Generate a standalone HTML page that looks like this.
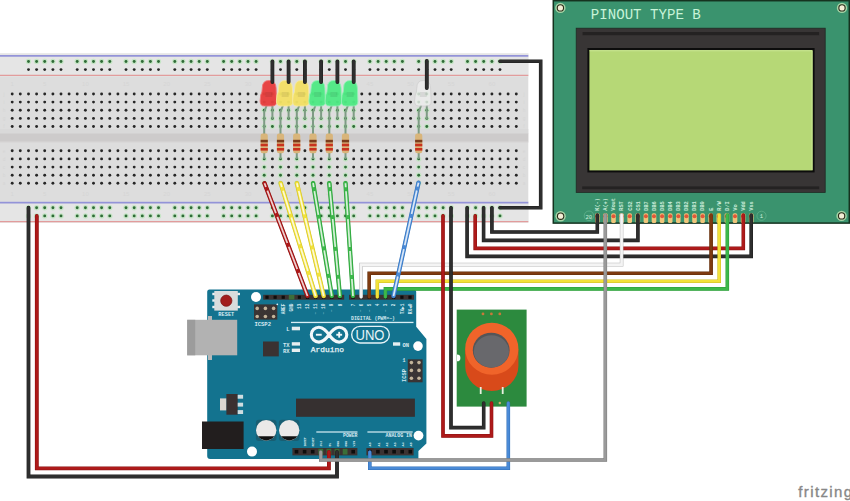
<!DOCTYPE html>
<html><head><meta charset="utf-8"><style>
html,body{margin:0;padding:0;background:#fff;width:850px;height:501px;overflow:hidden}
svg{display:block}
text{font-family:"Liberation Sans",sans-serif}
.mono{font-family:"Liberation Mono",monospace}
</style></head><body>
<svg width="850" height="501" viewBox="0 0 850 501">
<rect width="850" height="501" fill="#fff"/>
<rect x="-2" y="53.5" width="530.3" height="169" fill="#dddddd"/>
<rect x="-2" y="53.5" width="530.3" height="23" fill="#e5e5e5"/>
<rect x="-2" y="201.5" width="530.3" height="21" fill="#e5e5e5"/>
<rect x="-2" y="129" width="530.3" height="5" fill="#d9d9d9"/>
<rect x="-2" y="133.5" width="530.3" height="8.3" fill="#cdcbcb"/>
<rect x="-2" y="141.6" width="530.3" height="1" fill="#d6d4d4"/>
<line x1="-2" y1="55.8" x2="528.3" y2="55.8" stroke="#9393d8" stroke-width="1.8"/>
<line x1="-2" y1="75.4" x2="528.3" y2="75.4" stroke="#e29c9c" stroke-width="1.4"/>
<line x1="-2" y1="202.7" x2="528.3" y2="202.7" stroke="#9393d8" stroke-width="1.8"/>
<line x1="-2" y1="221.6" x2="528.3" y2="221.6" stroke="#e29c9c" stroke-width="1.4"/>
<circle cx="28.5" cy="61.5" r="2.7" fill="#c6e5c6"/><circle cx="28.5" cy="61.5" r="1.45" fill="#2f6b37"/>
<circle cx="28.5" cy="69.6" r="1.45" fill="#262626"/>
<circle cx="28.5" cy="207.7" r="2.7" fill="#c6e5c6"/><circle cx="28.5" cy="207.7" r="1.45" fill="#2f6b37"/>
<circle cx="28.5" cy="215.9" r="2.7" fill="#c6e5c6"/><circle cx="28.5" cy="215.9" r="1.45" fill="#2f6b37"/>
<circle cx="36.6" cy="61.5" r="2.7" fill="#c6e5c6"/><circle cx="36.6" cy="61.5" r="1.45" fill="#2f6b37"/>
<circle cx="36.6" cy="69.6" r="1.45" fill="#262626"/>
<circle cx="36.6" cy="207.7" r="2.7" fill="#c6e5c6"/><circle cx="36.6" cy="207.7" r="1.45" fill="#2f6b37"/>
<circle cx="36.6" cy="215.9" r="2.7" fill="#c6e5c6"/><circle cx="36.6" cy="215.9" r="1.45" fill="#2f6b37"/>
<circle cx="44.7" cy="61.5" r="2.7" fill="#c6e5c6"/><circle cx="44.7" cy="61.5" r="1.45" fill="#2f6b37"/>
<circle cx="44.7" cy="69.6" r="1.45" fill="#262626"/>
<circle cx="44.7" cy="207.7" r="2.7" fill="#c6e5c6"/><circle cx="44.7" cy="207.7" r="1.45" fill="#2f6b37"/>
<circle cx="44.7" cy="215.9" r="2.7" fill="#c6e5c6"/><circle cx="44.7" cy="215.9" r="1.45" fill="#2f6b37"/>
<circle cx="52.9" cy="61.5" r="2.7" fill="#c6e5c6"/><circle cx="52.9" cy="61.5" r="1.45" fill="#2f6b37"/>
<circle cx="52.9" cy="69.6" r="1.45" fill="#262626"/>
<circle cx="52.9" cy="207.7" r="2.7" fill="#c6e5c6"/><circle cx="52.9" cy="207.7" r="1.45" fill="#2f6b37"/>
<circle cx="52.9" cy="215.9" r="2.7" fill="#c6e5c6"/><circle cx="52.9" cy="215.9" r="1.45" fill="#2f6b37"/>
<circle cx="61.0" cy="61.5" r="2.7" fill="#c6e5c6"/><circle cx="61.0" cy="61.5" r="1.45" fill="#2f6b37"/>
<circle cx="61.0" cy="69.6" r="1.45" fill="#262626"/>
<circle cx="61.0" cy="207.7" r="2.7" fill="#c6e5c6"/><circle cx="61.0" cy="207.7" r="1.45" fill="#2f6b37"/>
<circle cx="61.0" cy="215.9" r="2.7" fill="#c6e5c6"/><circle cx="61.0" cy="215.9" r="1.45" fill="#2f6b37"/>
<circle cx="77.2" cy="61.5" r="2.7" fill="#c6e5c6"/><circle cx="77.2" cy="61.5" r="1.45" fill="#2f6b37"/>
<circle cx="77.2" cy="69.6" r="1.45" fill="#262626"/>
<circle cx="77.2" cy="207.7" r="2.7" fill="#c6e5c6"/><circle cx="77.2" cy="207.7" r="1.45" fill="#2f6b37"/>
<circle cx="77.2" cy="215.9" r="2.7" fill="#c6e5c6"/><circle cx="77.2" cy="215.9" r="1.45" fill="#2f6b37"/>
<circle cx="85.4" cy="61.5" r="2.7" fill="#c6e5c6"/><circle cx="85.4" cy="61.5" r="1.45" fill="#2f6b37"/>
<circle cx="85.4" cy="69.6" r="1.45" fill="#262626"/>
<circle cx="85.4" cy="207.7" r="2.7" fill="#c6e5c6"/><circle cx="85.4" cy="207.7" r="1.45" fill="#2f6b37"/>
<circle cx="85.4" cy="215.9" r="2.7" fill="#c6e5c6"/><circle cx="85.4" cy="215.9" r="1.45" fill="#2f6b37"/>
<circle cx="93.5" cy="61.5" r="2.7" fill="#c6e5c6"/><circle cx="93.5" cy="61.5" r="1.45" fill="#2f6b37"/>
<circle cx="93.5" cy="69.6" r="1.45" fill="#262626"/>
<circle cx="93.5" cy="207.7" r="2.7" fill="#c6e5c6"/><circle cx="93.5" cy="207.7" r="1.45" fill="#2f6b37"/>
<circle cx="93.5" cy="215.9" r="2.7" fill="#c6e5c6"/><circle cx="93.5" cy="215.9" r="1.45" fill="#2f6b37"/>
<circle cx="101.6" cy="61.5" r="2.7" fill="#c6e5c6"/><circle cx="101.6" cy="61.5" r="1.45" fill="#2f6b37"/>
<circle cx="101.6" cy="69.6" r="1.45" fill="#262626"/>
<circle cx="101.6" cy="207.7" r="2.7" fill="#c6e5c6"/><circle cx="101.6" cy="207.7" r="1.45" fill="#2f6b37"/>
<circle cx="101.6" cy="215.9" r="2.7" fill="#c6e5c6"/><circle cx="101.6" cy="215.9" r="1.45" fill="#2f6b37"/>
<circle cx="109.8" cy="61.5" r="2.7" fill="#c6e5c6"/><circle cx="109.8" cy="61.5" r="1.45" fill="#2f6b37"/>
<circle cx="109.8" cy="69.6" r="1.45" fill="#262626"/>
<circle cx="109.8" cy="207.7" r="2.7" fill="#c6e5c6"/><circle cx="109.8" cy="207.7" r="1.45" fill="#2f6b37"/>
<circle cx="109.8" cy="215.9" r="2.7" fill="#c6e5c6"/><circle cx="109.8" cy="215.9" r="1.45" fill="#2f6b37"/>
<circle cx="126.0" cy="61.5" r="2.7" fill="#c6e5c6"/><circle cx="126.0" cy="61.5" r="1.45" fill="#2f6b37"/>
<circle cx="126.0" cy="69.6" r="1.45" fill="#262626"/>
<circle cx="126.0" cy="207.7" r="2.7" fill="#c6e5c6"/><circle cx="126.0" cy="207.7" r="1.45" fill="#2f6b37"/>
<circle cx="126.0" cy="215.9" r="2.7" fill="#c6e5c6"/><circle cx="126.0" cy="215.9" r="1.45" fill="#2f6b37"/>
<circle cx="134.2" cy="61.5" r="2.7" fill="#c6e5c6"/><circle cx="134.2" cy="61.5" r="1.45" fill="#2f6b37"/>
<circle cx="134.2" cy="69.6" r="1.45" fill="#262626"/>
<circle cx="134.2" cy="207.7" r="2.7" fill="#c6e5c6"/><circle cx="134.2" cy="207.7" r="1.45" fill="#2f6b37"/>
<circle cx="134.2" cy="215.9" r="2.7" fill="#c6e5c6"/><circle cx="134.2" cy="215.9" r="1.45" fill="#2f6b37"/>
<circle cx="142.3" cy="61.5" r="2.7" fill="#c6e5c6"/><circle cx="142.3" cy="61.5" r="1.45" fill="#2f6b37"/>
<circle cx="142.3" cy="69.6" r="1.45" fill="#262626"/>
<circle cx="142.3" cy="207.7" r="2.7" fill="#c6e5c6"/><circle cx="142.3" cy="207.7" r="1.45" fill="#2f6b37"/>
<circle cx="142.3" cy="215.9" r="2.7" fill="#c6e5c6"/><circle cx="142.3" cy="215.9" r="1.45" fill="#2f6b37"/>
<circle cx="150.4" cy="61.5" r="2.7" fill="#c6e5c6"/><circle cx="150.4" cy="61.5" r="1.45" fill="#2f6b37"/>
<circle cx="150.4" cy="69.6" r="1.45" fill="#262626"/>
<circle cx="150.4" cy="207.7" r="2.7" fill="#c6e5c6"/><circle cx="150.4" cy="207.7" r="1.45" fill="#2f6b37"/>
<circle cx="150.4" cy="215.9" r="2.7" fill="#c6e5c6"/><circle cx="150.4" cy="215.9" r="1.45" fill="#2f6b37"/>
<circle cx="158.5" cy="61.5" r="2.7" fill="#c6e5c6"/><circle cx="158.5" cy="61.5" r="1.45" fill="#2f6b37"/>
<circle cx="158.5" cy="69.6" r="1.45" fill="#262626"/>
<circle cx="158.5" cy="207.7" r="2.7" fill="#c6e5c6"/><circle cx="158.5" cy="207.7" r="1.45" fill="#2f6b37"/>
<circle cx="158.5" cy="215.9" r="2.7" fill="#c6e5c6"/><circle cx="158.5" cy="215.9" r="1.45" fill="#2f6b37"/>
<circle cx="174.8" cy="61.5" r="2.7" fill="#c6e5c6"/><circle cx="174.8" cy="61.5" r="1.45" fill="#2f6b37"/>
<circle cx="174.8" cy="69.6" r="1.45" fill="#262626"/>
<circle cx="174.8" cy="207.7" r="2.7" fill="#c6e5c6"/><circle cx="174.8" cy="207.7" r="1.45" fill="#2f6b37"/>
<circle cx="174.8" cy="215.9" r="2.7" fill="#c6e5c6"/><circle cx="174.8" cy="215.9" r="1.45" fill="#2f6b37"/>
<circle cx="182.9" cy="61.5" r="2.7" fill="#c6e5c6"/><circle cx="182.9" cy="61.5" r="1.45" fill="#2f6b37"/>
<circle cx="182.9" cy="69.6" r="1.45" fill="#262626"/>
<circle cx="182.9" cy="207.7" r="2.7" fill="#c6e5c6"/><circle cx="182.9" cy="207.7" r="1.45" fill="#2f6b37"/>
<circle cx="182.9" cy="215.9" r="2.7" fill="#c6e5c6"/><circle cx="182.9" cy="215.9" r="1.45" fill="#2f6b37"/>
<circle cx="191.1" cy="61.5" r="2.7" fill="#c6e5c6"/><circle cx="191.1" cy="61.5" r="1.45" fill="#2f6b37"/>
<circle cx="191.1" cy="69.6" r="1.45" fill="#262626"/>
<circle cx="191.1" cy="207.7" r="2.7" fill="#c6e5c6"/><circle cx="191.1" cy="207.7" r="1.45" fill="#2f6b37"/>
<circle cx="191.1" cy="215.9" r="2.7" fill="#c6e5c6"/><circle cx="191.1" cy="215.9" r="1.45" fill="#2f6b37"/>
<circle cx="199.2" cy="61.5" r="2.7" fill="#c6e5c6"/><circle cx="199.2" cy="61.5" r="1.45" fill="#2f6b37"/>
<circle cx="199.2" cy="69.6" r="1.45" fill="#262626"/>
<circle cx="199.2" cy="207.7" r="2.7" fill="#c6e5c6"/><circle cx="199.2" cy="207.7" r="1.45" fill="#2f6b37"/>
<circle cx="199.2" cy="215.9" r="2.7" fill="#c6e5c6"/><circle cx="199.2" cy="215.9" r="1.45" fill="#2f6b37"/>
<circle cx="207.3" cy="61.5" r="2.7" fill="#c6e5c6"/><circle cx="207.3" cy="61.5" r="1.45" fill="#2f6b37"/>
<circle cx="207.3" cy="69.6" r="1.45" fill="#262626"/>
<circle cx="207.3" cy="207.7" r="2.7" fill="#c6e5c6"/><circle cx="207.3" cy="207.7" r="1.45" fill="#2f6b37"/>
<circle cx="207.3" cy="215.9" r="2.7" fill="#c6e5c6"/><circle cx="207.3" cy="215.9" r="1.45" fill="#2f6b37"/>
<circle cx="223.6" cy="61.5" r="2.7" fill="#c6e5c6"/><circle cx="223.6" cy="61.5" r="1.45" fill="#2f6b37"/>
<circle cx="223.6" cy="69.6" r="1.45" fill="#262626"/>
<circle cx="223.6" cy="207.7" r="2.7" fill="#c6e5c6"/><circle cx="223.6" cy="207.7" r="1.45" fill="#2f6b37"/>
<circle cx="223.6" cy="215.9" r="2.7" fill="#c6e5c6"/><circle cx="223.6" cy="215.9" r="1.45" fill="#2f6b37"/>
<circle cx="231.7" cy="61.5" r="2.7" fill="#c6e5c6"/><circle cx="231.7" cy="61.5" r="1.45" fill="#2f6b37"/>
<circle cx="231.7" cy="69.6" r="1.45" fill="#262626"/>
<circle cx="231.7" cy="207.7" r="2.7" fill="#c6e5c6"/><circle cx="231.7" cy="207.7" r="1.45" fill="#2f6b37"/>
<circle cx="231.7" cy="215.9" r="2.7" fill="#c6e5c6"/><circle cx="231.7" cy="215.9" r="1.45" fill="#2f6b37"/>
<circle cx="239.8" cy="61.5" r="2.7" fill="#c6e5c6"/><circle cx="239.8" cy="61.5" r="1.45" fill="#2f6b37"/>
<circle cx="239.8" cy="69.6" r="1.45" fill="#262626"/>
<circle cx="239.8" cy="207.7" r="2.7" fill="#c6e5c6"/><circle cx="239.8" cy="207.7" r="1.45" fill="#2f6b37"/>
<circle cx="239.8" cy="215.9" r="2.7" fill="#c6e5c6"/><circle cx="239.8" cy="215.9" r="1.45" fill="#2f6b37"/>
<circle cx="248.0" cy="61.5" r="2.7" fill="#c6e5c6"/><circle cx="248.0" cy="61.5" r="1.45" fill="#2f6b37"/>
<circle cx="248.0" cy="69.6" r="1.45" fill="#262626"/>
<circle cx="248.0" cy="207.7" r="2.7" fill="#c6e5c6"/><circle cx="248.0" cy="207.7" r="1.45" fill="#2f6b37"/>
<circle cx="248.0" cy="215.9" r="2.7" fill="#c6e5c6"/><circle cx="248.0" cy="215.9" r="1.45" fill="#2f6b37"/>
<circle cx="256.1" cy="61.5" r="2.7" fill="#c6e5c6"/><circle cx="256.1" cy="61.5" r="1.45" fill="#2f6b37"/>
<circle cx="256.1" cy="69.6" r="1.45" fill="#262626"/>
<circle cx="256.1" cy="207.7" r="2.7" fill="#c6e5c6"/><circle cx="256.1" cy="207.7" r="1.45" fill="#2f6b37"/>
<circle cx="256.1" cy="215.9" r="2.7" fill="#c6e5c6"/><circle cx="256.1" cy="215.9" r="1.45" fill="#2f6b37"/>
<circle cx="272.4" cy="61.5" r="2.7" fill="#c6e5c6"/><circle cx="272.4" cy="61.5" r="1.45" fill="#2f6b37"/>
<circle cx="272.4" cy="69.6" r="1.45" fill="#262626"/>
<circle cx="272.4" cy="207.7" r="2.7" fill="#c6e5c6"/><circle cx="272.4" cy="207.7" r="1.45" fill="#2f6b37"/>
<circle cx="272.4" cy="215.9" r="2.7" fill="#c6e5c6"/><circle cx="272.4" cy="215.9" r="1.45" fill="#2f6b37"/>
<circle cx="280.5" cy="61.5" r="2.7" fill="#c6e5c6"/><circle cx="280.5" cy="61.5" r="1.45" fill="#2f6b37"/>
<circle cx="280.5" cy="69.6" r="1.45" fill="#262626"/>
<circle cx="280.5" cy="207.7" r="2.7" fill="#c6e5c6"/><circle cx="280.5" cy="207.7" r="1.45" fill="#2f6b37"/>
<circle cx="280.5" cy="215.9" r="2.7" fill="#c6e5c6"/><circle cx="280.5" cy="215.9" r="1.45" fill="#2f6b37"/>
<circle cx="288.6" cy="61.5" r="2.7" fill="#c6e5c6"/><circle cx="288.6" cy="61.5" r="1.45" fill="#2f6b37"/>
<circle cx="288.6" cy="69.6" r="1.45" fill="#262626"/>
<circle cx="288.6" cy="207.7" r="2.7" fill="#c6e5c6"/><circle cx="288.6" cy="207.7" r="1.45" fill="#2f6b37"/>
<circle cx="288.6" cy="215.9" r="2.7" fill="#c6e5c6"/><circle cx="288.6" cy="215.9" r="1.45" fill="#2f6b37"/>
<circle cx="296.8" cy="61.5" r="2.7" fill="#c6e5c6"/><circle cx="296.8" cy="61.5" r="1.45" fill="#2f6b37"/>
<circle cx="296.8" cy="69.6" r="1.45" fill="#262626"/>
<circle cx="296.8" cy="207.7" r="2.7" fill="#c6e5c6"/><circle cx="296.8" cy="207.7" r="1.45" fill="#2f6b37"/>
<circle cx="296.8" cy="215.9" r="2.7" fill="#c6e5c6"/><circle cx="296.8" cy="215.9" r="1.45" fill="#2f6b37"/>
<circle cx="304.9" cy="61.5" r="2.7" fill="#c6e5c6"/><circle cx="304.9" cy="61.5" r="1.45" fill="#2f6b37"/>
<circle cx="304.9" cy="69.6" r="1.45" fill="#262626"/>
<circle cx="304.9" cy="207.7" r="2.7" fill="#c6e5c6"/><circle cx="304.9" cy="207.7" r="1.45" fill="#2f6b37"/>
<circle cx="304.9" cy="215.9" r="2.7" fill="#c6e5c6"/><circle cx="304.9" cy="215.9" r="1.45" fill="#2f6b37"/>
<circle cx="321.1" cy="61.5" r="2.7" fill="#c6e5c6"/><circle cx="321.1" cy="61.5" r="1.45" fill="#2f6b37"/>
<circle cx="321.1" cy="69.6" r="1.45" fill="#262626"/>
<circle cx="321.1" cy="207.7" r="2.7" fill="#c6e5c6"/><circle cx="321.1" cy="207.7" r="1.45" fill="#2f6b37"/>
<circle cx="321.1" cy="215.9" r="2.7" fill="#c6e5c6"/><circle cx="321.1" cy="215.9" r="1.45" fill="#2f6b37"/>
<circle cx="329.3" cy="61.5" r="2.7" fill="#c6e5c6"/><circle cx="329.3" cy="61.5" r="1.45" fill="#2f6b37"/>
<circle cx="329.3" cy="69.6" r="1.45" fill="#262626"/>
<circle cx="329.3" cy="207.7" r="2.7" fill="#c6e5c6"/><circle cx="329.3" cy="207.7" r="1.45" fill="#2f6b37"/>
<circle cx="329.3" cy="215.9" r="2.7" fill="#c6e5c6"/><circle cx="329.3" cy="215.9" r="1.45" fill="#2f6b37"/>
<circle cx="337.4" cy="61.5" r="2.7" fill="#c6e5c6"/><circle cx="337.4" cy="61.5" r="1.45" fill="#2f6b37"/>
<circle cx="337.4" cy="69.6" r="1.45" fill="#262626"/>
<circle cx="337.4" cy="207.7" r="2.7" fill="#c6e5c6"/><circle cx="337.4" cy="207.7" r="1.45" fill="#2f6b37"/>
<circle cx="337.4" cy="215.9" r="2.7" fill="#c6e5c6"/><circle cx="337.4" cy="215.9" r="1.45" fill="#2f6b37"/>
<circle cx="345.5" cy="61.5" r="2.7" fill="#c6e5c6"/><circle cx="345.5" cy="61.5" r="1.45" fill="#2f6b37"/>
<circle cx="345.5" cy="69.6" r="1.45" fill="#262626"/>
<circle cx="345.5" cy="207.7" r="2.7" fill="#c6e5c6"/><circle cx="345.5" cy="207.7" r="1.45" fill="#2f6b37"/>
<circle cx="345.5" cy="215.9" r="2.7" fill="#c6e5c6"/><circle cx="345.5" cy="215.9" r="1.45" fill="#2f6b37"/>
<circle cx="353.7" cy="61.5" r="2.7" fill="#c6e5c6"/><circle cx="353.7" cy="61.5" r="1.45" fill="#2f6b37"/>
<circle cx="353.7" cy="69.6" r="1.45" fill="#262626"/>
<circle cx="353.7" cy="207.7" r="2.7" fill="#c6e5c6"/><circle cx="353.7" cy="207.7" r="1.45" fill="#2f6b37"/>
<circle cx="353.7" cy="215.9" r="2.7" fill="#c6e5c6"/><circle cx="353.7" cy="215.9" r="1.45" fill="#2f6b37"/>
<circle cx="369.9" cy="61.5" r="2.7" fill="#c6e5c6"/><circle cx="369.9" cy="61.5" r="1.45" fill="#2f6b37"/>
<circle cx="369.9" cy="69.6" r="1.45" fill="#262626"/>
<circle cx="369.9" cy="207.7" r="2.7" fill="#c6e5c6"/><circle cx="369.9" cy="207.7" r="1.45" fill="#2f6b37"/>
<circle cx="369.9" cy="215.9" r="2.7" fill="#c6e5c6"/><circle cx="369.9" cy="215.9" r="1.45" fill="#2f6b37"/>
<circle cx="378.1" cy="61.5" r="2.7" fill="#c6e5c6"/><circle cx="378.1" cy="61.5" r="1.45" fill="#2f6b37"/>
<circle cx="378.1" cy="69.6" r="1.45" fill="#262626"/>
<circle cx="378.1" cy="207.7" r="2.7" fill="#c6e5c6"/><circle cx="378.1" cy="207.7" r="1.45" fill="#2f6b37"/>
<circle cx="378.1" cy="215.9" r="2.7" fill="#c6e5c6"/><circle cx="378.1" cy="215.9" r="1.45" fill="#2f6b37"/>
<circle cx="386.2" cy="61.5" r="2.7" fill="#c6e5c6"/><circle cx="386.2" cy="61.5" r="1.45" fill="#2f6b37"/>
<circle cx="386.2" cy="69.6" r="1.45" fill="#262626"/>
<circle cx="386.2" cy="207.7" r="2.7" fill="#c6e5c6"/><circle cx="386.2" cy="207.7" r="1.45" fill="#2f6b37"/>
<circle cx="386.2" cy="215.9" r="2.7" fill="#c6e5c6"/><circle cx="386.2" cy="215.9" r="1.45" fill="#2f6b37"/>
<circle cx="394.3" cy="61.5" r="2.7" fill="#c6e5c6"/><circle cx="394.3" cy="61.5" r="1.45" fill="#2f6b37"/>
<circle cx="394.3" cy="69.6" r="1.45" fill="#262626"/>
<circle cx="394.3" cy="207.7" r="2.7" fill="#c6e5c6"/><circle cx="394.3" cy="207.7" r="1.45" fill="#2f6b37"/>
<circle cx="394.3" cy="215.9" r="2.7" fill="#c6e5c6"/><circle cx="394.3" cy="215.9" r="1.45" fill="#2f6b37"/>
<circle cx="402.4" cy="61.5" r="2.7" fill="#c6e5c6"/><circle cx="402.4" cy="61.5" r="1.45" fill="#2f6b37"/>
<circle cx="402.4" cy="69.6" r="1.45" fill="#262626"/>
<circle cx="402.4" cy="207.7" r="2.7" fill="#c6e5c6"/><circle cx="402.4" cy="207.7" r="1.45" fill="#2f6b37"/>
<circle cx="402.4" cy="215.9" r="2.7" fill="#c6e5c6"/><circle cx="402.4" cy="215.9" r="1.45" fill="#2f6b37"/>
<circle cx="418.7" cy="61.5" r="2.7" fill="#c6e5c6"/><circle cx="418.7" cy="61.5" r="1.45" fill="#2f6b37"/>
<circle cx="418.7" cy="69.6" r="1.45" fill="#262626"/>
<circle cx="418.7" cy="207.7" r="2.7" fill="#c6e5c6"/><circle cx="418.7" cy="207.7" r="1.45" fill="#2f6b37"/>
<circle cx="418.7" cy="215.9" r="2.7" fill="#c6e5c6"/><circle cx="418.7" cy="215.9" r="1.45" fill="#2f6b37"/>
<circle cx="426.8" cy="61.5" r="2.7" fill="#c6e5c6"/><circle cx="426.8" cy="61.5" r="1.45" fill="#2f6b37"/>
<circle cx="426.8" cy="69.6" r="1.45" fill="#262626"/>
<circle cx="426.8" cy="207.7" r="2.7" fill="#c6e5c6"/><circle cx="426.8" cy="207.7" r="1.45" fill="#2f6b37"/>
<circle cx="426.8" cy="215.9" r="2.7" fill="#c6e5c6"/><circle cx="426.8" cy="215.9" r="1.45" fill="#2f6b37"/>
<circle cx="435.0" cy="61.5" r="2.7" fill="#c6e5c6"/><circle cx="435.0" cy="61.5" r="1.45" fill="#2f6b37"/>
<circle cx="435.0" cy="69.6" r="1.45" fill="#262626"/>
<circle cx="435.0" cy="207.7" r="2.7" fill="#c6e5c6"/><circle cx="435.0" cy="207.7" r="1.45" fill="#2f6b37"/>
<circle cx="435.0" cy="215.9" r="2.7" fill="#c6e5c6"/><circle cx="435.0" cy="215.9" r="1.45" fill="#2f6b37"/>
<circle cx="443.1" cy="61.5" r="2.7" fill="#c6e5c6"/><circle cx="443.1" cy="61.5" r="1.45" fill="#2f6b37"/>
<circle cx="443.1" cy="69.6" r="1.45" fill="#262626"/>
<circle cx="443.1" cy="207.7" r="2.7" fill="#c6e5c6"/><circle cx="443.1" cy="207.7" r="1.45" fill="#2f6b37"/>
<circle cx="443.1" cy="215.9" r="2.7" fill="#c6e5c6"/><circle cx="443.1" cy="215.9" r="1.45" fill="#2f6b37"/>
<circle cx="451.2" cy="61.5" r="2.7" fill="#c6e5c6"/><circle cx="451.2" cy="61.5" r="1.45" fill="#2f6b37"/>
<circle cx="451.2" cy="69.6" r="1.45" fill="#262626"/>
<circle cx="451.2" cy="207.7" r="2.7" fill="#c6e5c6"/><circle cx="451.2" cy="207.7" r="1.45" fill="#2f6b37"/>
<circle cx="451.2" cy="215.9" r="2.7" fill="#c6e5c6"/><circle cx="451.2" cy="215.9" r="1.45" fill="#2f6b37"/>
<circle cx="467.5" cy="61.5" r="2.7" fill="#c6e5c6"/><circle cx="467.5" cy="61.5" r="1.45" fill="#2f6b37"/>
<circle cx="467.5" cy="69.6" r="1.45" fill="#262626"/>
<circle cx="467.5" cy="207.7" r="2.7" fill="#c6e5c6"/><circle cx="467.5" cy="207.7" r="1.45" fill="#2f6b37"/>
<circle cx="467.5" cy="215.9" r="2.7" fill="#c6e5c6"/><circle cx="467.5" cy="215.9" r="1.45" fill="#2f6b37"/>
<circle cx="475.6" cy="61.5" r="2.7" fill="#c6e5c6"/><circle cx="475.6" cy="61.5" r="1.45" fill="#2f6b37"/>
<circle cx="475.6" cy="69.6" r="1.45" fill="#262626"/>
<circle cx="475.6" cy="207.7" r="2.7" fill="#c6e5c6"/><circle cx="475.6" cy="207.7" r="1.45" fill="#2f6b37"/>
<circle cx="475.6" cy="215.9" r="2.7" fill="#c6e5c6"/><circle cx="475.6" cy="215.9" r="1.45" fill="#2f6b37"/>
<circle cx="483.7" cy="61.5" r="2.7" fill="#c6e5c6"/><circle cx="483.7" cy="61.5" r="1.45" fill="#2f6b37"/>
<circle cx="483.7" cy="69.6" r="1.45" fill="#262626"/>
<circle cx="483.7" cy="207.7" r="2.7" fill="#c6e5c6"/><circle cx="483.7" cy="207.7" r="1.45" fill="#2f6b37"/>
<circle cx="483.7" cy="215.9" r="2.7" fill="#c6e5c6"/><circle cx="483.7" cy="215.9" r="1.45" fill="#2f6b37"/>
<circle cx="491.9" cy="61.5" r="2.7" fill="#c6e5c6"/><circle cx="491.9" cy="61.5" r="1.45" fill="#2f6b37"/>
<circle cx="491.9" cy="69.6" r="1.45" fill="#262626"/>
<circle cx="491.9" cy="207.7" r="2.7" fill="#c6e5c6"/><circle cx="491.9" cy="207.7" r="1.45" fill="#2f6b37"/>
<circle cx="491.9" cy="215.9" r="2.7" fill="#c6e5c6"/><circle cx="491.9" cy="215.9" r="1.45" fill="#2f6b37"/>
<circle cx="500.0" cy="61.5" r="2.7" fill="#c6e5c6"/><circle cx="500.0" cy="61.5" r="1.45" fill="#2f6b37"/>
<circle cx="500.0" cy="69.6" r="1.45" fill="#262626"/>
<circle cx="500.0" cy="207.7" r="2.7" fill="#c6e5c6"/><circle cx="500.0" cy="207.7" r="1.45" fill="#2f6b37"/>
<circle cx="500.0" cy="215.9" r="2.7" fill="#c6e5c6"/><circle cx="500.0" cy="215.9" r="1.45" fill="#2f6b37"/>
<circle cx="12.2" cy="94.0" r="1.45" fill="#262626"/>
<circle cx="12.2" cy="102.1" r="1.45" fill="#262626"/>
<circle cx="12.2" cy="110.3" r="1.45" fill="#262626"/>
<circle cx="12.2" cy="118.4" r="1.45" fill="#262626"/>
<circle cx="12.2" cy="126.5" r="1.45" fill="#262626"/>
<circle cx="12.2" cy="150.8" r="1.45" fill="#262626"/>
<circle cx="12.2" cy="158.9" r="1.45" fill="#262626"/>
<circle cx="12.2" cy="167.1" r="1.45" fill="#262626"/>
<circle cx="12.2" cy="175.2" r="1.45" fill="#262626"/>
<circle cx="12.2" cy="183.3" r="1.45" fill="#262626"/>
<circle cx="20.3" cy="94.0" r="1.45" fill="#262626"/>
<circle cx="20.3" cy="102.1" r="1.45" fill="#262626"/>
<circle cx="20.3" cy="110.3" r="1.45" fill="#262626"/>
<circle cx="20.3" cy="118.4" r="1.45" fill="#262626"/>
<circle cx="20.3" cy="126.5" r="1.45" fill="#262626"/>
<circle cx="20.3" cy="150.8" r="1.45" fill="#262626"/>
<circle cx="20.3" cy="158.9" r="1.45" fill="#262626"/>
<circle cx="20.3" cy="167.1" r="1.45" fill="#262626"/>
<circle cx="20.3" cy="175.2" r="1.45" fill="#262626"/>
<circle cx="20.3" cy="183.3" r="1.45" fill="#262626"/>
<circle cx="28.5" cy="94.0" r="1.45" fill="#262626"/>
<circle cx="28.5" cy="102.1" r="1.45" fill="#262626"/>
<circle cx="28.5" cy="110.3" r="1.45" fill="#262626"/>
<circle cx="28.5" cy="118.4" r="1.45" fill="#262626"/>
<circle cx="28.5" cy="126.5" r="1.45" fill="#262626"/>
<circle cx="28.5" cy="150.8" r="1.45" fill="#262626"/>
<circle cx="28.5" cy="158.9" r="1.45" fill="#262626"/>
<circle cx="28.5" cy="167.1" r="1.45" fill="#262626"/>
<circle cx="28.5" cy="175.2" r="1.45" fill="#262626"/>
<circle cx="28.5" cy="183.3" r="1.45" fill="#262626"/>
<circle cx="36.6" cy="94.0" r="1.45" fill="#262626"/>
<circle cx="36.6" cy="102.1" r="1.45" fill="#262626"/>
<circle cx="36.6" cy="110.3" r="1.45" fill="#262626"/>
<circle cx="36.6" cy="118.4" r="1.45" fill="#262626"/>
<circle cx="36.6" cy="126.5" r="1.45" fill="#262626"/>
<circle cx="36.6" cy="150.8" r="1.45" fill="#262626"/>
<circle cx="36.6" cy="158.9" r="1.45" fill="#262626"/>
<circle cx="36.6" cy="167.1" r="1.45" fill="#262626"/>
<circle cx="36.6" cy="175.2" r="1.45" fill="#262626"/>
<circle cx="36.6" cy="183.3" r="1.45" fill="#262626"/>
<circle cx="44.7" cy="94.0" r="1.45" fill="#262626"/>
<circle cx="44.7" cy="102.1" r="1.45" fill="#262626"/>
<circle cx="44.7" cy="110.3" r="1.45" fill="#262626"/>
<circle cx="44.7" cy="118.4" r="1.45" fill="#262626"/>
<circle cx="44.7" cy="126.5" r="1.45" fill="#262626"/>
<circle cx="44.7" cy="150.8" r="1.45" fill="#262626"/>
<circle cx="44.7" cy="158.9" r="1.45" fill="#262626"/>
<circle cx="44.7" cy="167.1" r="1.45" fill="#262626"/>
<circle cx="44.7" cy="175.2" r="1.45" fill="#262626"/>
<circle cx="44.7" cy="183.3" r="1.45" fill="#262626"/>
<circle cx="52.9" cy="94.0" r="1.45" fill="#262626"/>
<circle cx="52.9" cy="102.1" r="1.45" fill="#262626"/>
<circle cx="52.9" cy="110.3" r="1.45" fill="#262626"/>
<circle cx="52.9" cy="118.4" r="1.45" fill="#262626"/>
<circle cx="52.9" cy="126.5" r="1.45" fill="#262626"/>
<circle cx="52.9" cy="150.8" r="1.45" fill="#262626"/>
<circle cx="52.9" cy="158.9" r="1.45" fill="#262626"/>
<circle cx="52.9" cy="167.1" r="1.45" fill="#262626"/>
<circle cx="52.9" cy="175.2" r="1.45" fill="#262626"/>
<circle cx="52.9" cy="183.3" r="1.45" fill="#262626"/>
<circle cx="61.0" cy="94.0" r="1.45" fill="#262626"/>
<circle cx="61.0" cy="102.1" r="1.45" fill="#262626"/>
<circle cx="61.0" cy="110.3" r="1.45" fill="#262626"/>
<circle cx="61.0" cy="118.4" r="1.45" fill="#262626"/>
<circle cx="61.0" cy="126.5" r="1.45" fill="#262626"/>
<circle cx="61.0" cy="150.8" r="1.45" fill="#262626"/>
<circle cx="61.0" cy="158.9" r="1.45" fill="#262626"/>
<circle cx="61.0" cy="167.1" r="1.45" fill="#262626"/>
<circle cx="61.0" cy="175.2" r="1.45" fill="#262626"/>
<circle cx="61.0" cy="183.3" r="1.45" fill="#262626"/>
<circle cx="69.1" cy="94.0" r="1.45" fill="#262626"/>
<circle cx="69.1" cy="102.1" r="1.45" fill="#262626"/>
<circle cx="69.1" cy="110.3" r="1.45" fill="#262626"/>
<circle cx="69.1" cy="118.4" r="1.45" fill="#262626"/>
<circle cx="69.1" cy="126.5" r="1.45" fill="#262626"/>
<circle cx="69.1" cy="150.8" r="1.45" fill="#262626"/>
<circle cx="69.1" cy="158.9" r="1.45" fill="#262626"/>
<circle cx="69.1" cy="167.1" r="1.45" fill="#262626"/>
<circle cx="69.1" cy="175.2" r="1.45" fill="#262626"/>
<circle cx="69.1" cy="183.3" r="1.45" fill="#262626"/>
<circle cx="77.2" cy="94.0" r="1.45" fill="#262626"/>
<circle cx="77.2" cy="102.1" r="1.45" fill="#262626"/>
<circle cx="77.2" cy="110.3" r="1.45" fill="#262626"/>
<circle cx="77.2" cy="118.4" r="1.45" fill="#262626"/>
<circle cx="77.2" cy="126.5" r="1.45" fill="#262626"/>
<circle cx="77.2" cy="150.8" r="1.45" fill="#262626"/>
<circle cx="77.2" cy="158.9" r="1.45" fill="#262626"/>
<circle cx="77.2" cy="167.1" r="1.45" fill="#262626"/>
<circle cx="77.2" cy="175.2" r="1.45" fill="#262626"/>
<circle cx="77.2" cy="183.3" r="1.45" fill="#262626"/>
<circle cx="85.4" cy="94.0" r="1.45" fill="#262626"/>
<circle cx="85.4" cy="102.1" r="1.45" fill="#262626"/>
<circle cx="85.4" cy="110.3" r="1.45" fill="#262626"/>
<circle cx="85.4" cy="118.4" r="1.45" fill="#262626"/>
<circle cx="85.4" cy="126.5" r="1.45" fill="#262626"/>
<circle cx="85.4" cy="150.8" r="1.45" fill="#262626"/>
<circle cx="85.4" cy="158.9" r="1.45" fill="#262626"/>
<circle cx="85.4" cy="167.1" r="1.45" fill="#262626"/>
<circle cx="85.4" cy="175.2" r="1.45" fill="#262626"/>
<circle cx="85.4" cy="183.3" r="1.45" fill="#262626"/>
<circle cx="93.5" cy="94.0" r="1.45" fill="#262626"/>
<circle cx="93.5" cy="102.1" r="1.45" fill="#262626"/>
<circle cx="93.5" cy="110.3" r="1.45" fill="#262626"/>
<circle cx="93.5" cy="118.4" r="1.45" fill="#262626"/>
<circle cx="93.5" cy="126.5" r="1.45" fill="#262626"/>
<circle cx="93.5" cy="150.8" r="1.45" fill="#262626"/>
<circle cx="93.5" cy="158.9" r="1.45" fill="#262626"/>
<circle cx="93.5" cy="167.1" r="1.45" fill="#262626"/>
<circle cx="93.5" cy="175.2" r="1.45" fill="#262626"/>
<circle cx="93.5" cy="183.3" r="1.45" fill="#262626"/>
<circle cx="101.6" cy="94.0" r="1.45" fill="#262626"/>
<circle cx="101.6" cy="102.1" r="1.45" fill="#262626"/>
<circle cx="101.6" cy="110.3" r="1.45" fill="#262626"/>
<circle cx="101.6" cy="118.4" r="1.45" fill="#262626"/>
<circle cx="101.6" cy="126.5" r="1.45" fill="#262626"/>
<circle cx="101.6" cy="150.8" r="1.45" fill="#262626"/>
<circle cx="101.6" cy="158.9" r="1.45" fill="#262626"/>
<circle cx="101.6" cy="167.1" r="1.45" fill="#262626"/>
<circle cx="101.6" cy="175.2" r="1.45" fill="#262626"/>
<circle cx="101.6" cy="183.3" r="1.45" fill="#262626"/>
<circle cx="109.8" cy="94.0" r="1.45" fill="#262626"/>
<circle cx="109.8" cy="102.1" r="1.45" fill="#262626"/>
<circle cx="109.8" cy="110.3" r="1.45" fill="#262626"/>
<circle cx="109.8" cy="118.4" r="1.45" fill="#262626"/>
<circle cx="109.8" cy="126.5" r="1.45" fill="#262626"/>
<circle cx="109.8" cy="150.8" r="1.45" fill="#262626"/>
<circle cx="109.8" cy="158.9" r="1.45" fill="#262626"/>
<circle cx="109.8" cy="167.1" r="1.45" fill="#262626"/>
<circle cx="109.8" cy="175.2" r="1.45" fill="#262626"/>
<circle cx="109.8" cy="183.3" r="1.45" fill="#262626"/>
<circle cx="117.9" cy="94.0" r="1.45" fill="#262626"/>
<circle cx="117.9" cy="102.1" r="1.45" fill="#262626"/>
<circle cx="117.9" cy="110.3" r="1.45" fill="#262626"/>
<circle cx="117.9" cy="118.4" r="1.45" fill="#262626"/>
<circle cx="117.9" cy="126.5" r="1.45" fill="#262626"/>
<circle cx="117.9" cy="150.8" r="1.45" fill="#262626"/>
<circle cx="117.9" cy="158.9" r="1.45" fill="#262626"/>
<circle cx="117.9" cy="167.1" r="1.45" fill="#262626"/>
<circle cx="117.9" cy="175.2" r="1.45" fill="#262626"/>
<circle cx="117.9" cy="183.3" r="1.45" fill="#262626"/>
<circle cx="126.0" cy="94.0" r="1.45" fill="#262626"/>
<circle cx="126.0" cy="102.1" r="1.45" fill="#262626"/>
<circle cx="126.0" cy="110.3" r="1.45" fill="#262626"/>
<circle cx="126.0" cy="118.4" r="1.45" fill="#262626"/>
<circle cx="126.0" cy="126.5" r="1.45" fill="#262626"/>
<circle cx="126.0" cy="150.8" r="1.45" fill="#262626"/>
<circle cx="126.0" cy="158.9" r="1.45" fill="#262626"/>
<circle cx="126.0" cy="167.1" r="1.45" fill="#262626"/>
<circle cx="126.0" cy="175.2" r="1.45" fill="#262626"/>
<circle cx="126.0" cy="183.3" r="1.45" fill="#262626"/>
<circle cx="134.2" cy="94.0" r="1.45" fill="#262626"/>
<circle cx="134.2" cy="102.1" r="1.45" fill="#262626"/>
<circle cx="134.2" cy="110.3" r="1.45" fill="#262626"/>
<circle cx="134.2" cy="118.4" r="1.45" fill="#262626"/>
<circle cx="134.2" cy="126.5" r="1.45" fill="#262626"/>
<circle cx="134.2" cy="150.8" r="1.45" fill="#262626"/>
<circle cx="134.2" cy="158.9" r="1.45" fill="#262626"/>
<circle cx="134.2" cy="167.1" r="1.45" fill="#262626"/>
<circle cx="134.2" cy="175.2" r="1.45" fill="#262626"/>
<circle cx="134.2" cy="183.3" r="1.45" fill="#262626"/>
<circle cx="142.3" cy="94.0" r="1.45" fill="#262626"/>
<circle cx="142.3" cy="102.1" r="1.45" fill="#262626"/>
<circle cx="142.3" cy="110.3" r="1.45" fill="#262626"/>
<circle cx="142.3" cy="118.4" r="1.45" fill="#262626"/>
<circle cx="142.3" cy="126.5" r="1.45" fill="#262626"/>
<circle cx="142.3" cy="150.8" r="1.45" fill="#262626"/>
<circle cx="142.3" cy="158.9" r="1.45" fill="#262626"/>
<circle cx="142.3" cy="167.1" r="1.45" fill="#262626"/>
<circle cx="142.3" cy="175.2" r="1.45" fill="#262626"/>
<circle cx="142.3" cy="183.3" r="1.45" fill="#262626"/>
<circle cx="150.4" cy="94.0" r="1.45" fill="#262626"/>
<circle cx="150.4" cy="102.1" r="1.45" fill="#262626"/>
<circle cx="150.4" cy="110.3" r="1.45" fill="#262626"/>
<circle cx="150.4" cy="118.4" r="1.45" fill="#262626"/>
<circle cx="150.4" cy="126.5" r="1.45" fill="#262626"/>
<circle cx="150.4" cy="150.8" r="1.45" fill="#262626"/>
<circle cx="150.4" cy="158.9" r="1.45" fill="#262626"/>
<circle cx="150.4" cy="167.1" r="1.45" fill="#262626"/>
<circle cx="150.4" cy="175.2" r="1.45" fill="#262626"/>
<circle cx="150.4" cy="183.3" r="1.45" fill="#262626"/>
<circle cx="158.5" cy="94.0" r="1.45" fill="#262626"/>
<circle cx="158.5" cy="102.1" r="1.45" fill="#262626"/>
<circle cx="158.5" cy="110.3" r="1.45" fill="#262626"/>
<circle cx="158.5" cy="118.4" r="1.45" fill="#262626"/>
<circle cx="158.5" cy="126.5" r="1.45" fill="#262626"/>
<circle cx="158.5" cy="150.8" r="1.45" fill="#262626"/>
<circle cx="158.5" cy="158.9" r="1.45" fill="#262626"/>
<circle cx="158.5" cy="167.1" r="1.45" fill="#262626"/>
<circle cx="158.5" cy="175.2" r="1.45" fill="#262626"/>
<circle cx="158.5" cy="183.3" r="1.45" fill="#262626"/>
<circle cx="166.7" cy="94.0" r="1.45" fill="#262626"/>
<circle cx="166.7" cy="102.1" r="1.45" fill="#262626"/>
<circle cx="166.7" cy="110.3" r="1.45" fill="#262626"/>
<circle cx="166.7" cy="118.4" r="1.45" fill="#262626"/>
<circle cx="166.7" cy="126.5" r="1.45" fill="#262626"/>
<circle cx="166.7" cy="150.8" r="1.45" fill="#262626"/>
<circle cx="166.7" cy="158.9" r="1.45" fill="#262626"/>
<circle cx="166.7" cy="167.1" r="1.45" fill="#262626"/>
<circle cx="166.7" cy="175.2" r="1.45" fill="#262626"/>
<circle cx="166.7" cy="183.3" r="1.45" fill="#262626"/>
<circle cx="174.8" cy="94.0" r="1.45" fill="#262626"/>
<circle cx="174.8" cy="102.1" r="1.45" fill="#262626"/>
<circle cx="174.8" cy="110.3" r="1.45" fill="#262626"/>
<circle cx="174.8" cy="118.4" r="1.45" fill="#262626"/>
<circle cx="174.8" cy="126.5" r="1.45" fill="#262626"/>
<circle cx="174.8" cy="150.8" r="1.45" fill="#262626"/>
<circle cx="174.8" cy="158.9" r="1.45" fill="#262626"/>
<circle cx="174.8" cy="167.1" r="1.45" fill="#262626"/>
<circle cx="174.8" cy="175.2" r="1.45" fill="#262626"/>
<circle cx="174.8" cy="183.3" r="1.45" fill="#262626"/>
<circle cx="182.9" cy="94.0" r="1.45" fill="#262626"/>
<circle cx="182.9" cy="102.1" r="1.45" fill="#262626"/>
<circle cx="182.9" cy="110.3" r="1.45" fill="#262626"/>
<circle cx="182.9" cy="118.4" r="1.45" fill="#262626"/>
<circle cx="182.9" cy="126.5" r="1.45" fill="#262626"/>
<circle cx="182.9" cy="150.8" r="1.45" fill="#262626"/>
<circle cx="182.9" cy="158.9" r="1.45" fill="#262626"/>
<circle cx="182.9" cy="167.1" r="1.45" fill="#262626"/>
<circle cx="182.9" cy="175.2" r="1.45" fill="#262626"/>
<circle cx="182.9" cy="183.3" r="1.45" fill="#262626"/>
<circle cx="191.1" cy="94.0" r="1.45" fill="#262626"/>
<circle cx="191.1" cy="102.1" r="1.45" fill="#262626"/>
<circle cx="191.1" cy="110.3" r="1.45" fill="#262626"/>
<circle cx="191.1" cy="118.4" r="1.45" fill="#262626"/>
<circle cx="191.1" cy="126.5" r="1.45" fill="#262626"/>
<circle cx="191.1" cy="150.8" r="1.45" fill="#262626"/>
<circle cx="191.1" cy="158.9" r="1.45" fill="#262626"/>
<circle cx="191.1" cy="167.1" r="1.45" fill="#262626"/>
<circle cx="191.1" cy="175.2" r="1.45" fill="#262626"/>
<circle cx="191.1" cy="183.3" r="1.45" fill="#262626"/>
<circle cx="199.2" cy="94.0" r="1.45" fill="#262626"/>
<circle cx="199.2" cy="102.1" r="1.45" fill="#262626"/>
<circle cx="199.2" cy="110.3" r="1.45" fill="#262626"/>
<circle cx="199.2" cy="118.4" r="1.45" fill="#262626"/>
<circle cx="199.2" cy="126.5" r="1.45" fill="#262626"/>
<circle cx="199.2" cy="150.8" r="1.45" fill="#262626"/>
<circle cx="199.2" cy="158.9" r="1.45" fill="#262626"/>
<circle cx="199.2" cy="167.1" r="1.45" fill="#262626"/>
<circle cx="199.2" cy="175.2" r="1.45" fill="#262626"/>
<circle cx="199.2" cy="183.3" r="1.45" fill="#262626"/>
<circle cx="207.3" cy="94.0" r="1.45" fill="#262626"/>
<circle cx="207.3" cy="102.1" r="1.45" fill="#262626"/>
<circle cx="207.3" cy="110.3" r="1.45" fill="#262626"/>
<circle cx="207.3" cy="118.4" r="1.45" fill="#262626"/>
<circle cx="207.3" cy="126.5" r="1.45" fill="#262626"/>
<circle cx="207.3" cy="150.8" r="1.45" fill="#262626"/>
<circle cx="207.3" cy="158.9" r="1.45" fill="#262626"/>
<circle cx="207.3" cy="167.1" r="1.45" fill="#262626"/>
<circle cx="207.3" cy="175.2" r="1.45" fill="#262626"/>
<circle cx="207.3" cy="183.3" r="1.45" fill="#262626"/>
<circle cx="215.5" cy="94.0" r="1.45" fill="#262626"/>
<circle cx="215.5" cy="102.1" r="1.45" fill="#262626"/>
<circle cx="215.5" cy="110.3" r="1.45" fill="#262626"/>
<circle cx="215.5" cy="118.4" r="1.45" fill="#262626"/>
<circle cx="215.5" cy="126.5" r="1.45" fill="#262626"/>
<circle cx="215.5" cy="150.8" r="1.45" fill="#262626"/>
<circle cx="215.5" cy="158.9" r="1.45" fill="#262626"/>
<circle cx="215.5" cy="167.1" r="1.45" fill="#262626"/>
<circle cx="215.5" cy="175.2" r="1.45" fill="#262626"/>
<circle cx="215.5" cy="183.3" r="1.45" fill="#262626"/>
<circle cx="223.6" cy="94.0" r="1.45" fill="#262626"/>
<circle cx="223.6" cy="102.1" r="1.45" fill="#262626"/>
<circle cx="223.6" cy="110.3" r="1.45" fill="#262626"/>
<circle cx="223.6" cy="118.4" r="1.45" fill="#262626"/>
<circle cx="223.6" cy="126.5" r="1.45" fill="#262626"/>
<circle cx="223.6" cy="150.8" r="1.45" fill="#262626"/>
<circle cx="223.6" cy="158.9" r="1.45" fill="#262626"/>
<circle cx="223.6" cy="167.1" r="1.45" fill="#262626"/>
<circle cx="223.6" cy="175.2" r="1.45" fill="#262626"/>
<circle cx="223.6" cy="183.3" r="1.45" fill="#262626"/>
<circle cx="231.7" cy="94.0" r="1.45" fill="#262626"/>
<circle cx="231.7" cy="102.1" r="1.45" fill="#262626"/>
<circle cx="231.7" cy="110.3" r="1.45" fill="#262626"/>
<circle cx="231.7" cy="118.4" r="1.45" fill="#262626"/>
<circle cx="231.7" cy="126.5" r="1.45" fill="#262626"/>
<circle cx="231.7" cy="150.8" r="1.45" fill="#262626"/>
<circle cx="231.7" cy="158.9" r="1.45" fill="#262626"/>
<circle cx="231.7" cy="167.1" r="1.45" fill="#262626"/>
<circle cx="231.7" cy="175.2" r="1.45" fill="#262626"/>
<circle cx="231.7" cy="183.3" r="1.45" fill="#262626"/>
<circle cx="239.8" cy="94.0" r="1.45" fill="#262626"/>
<circle cx="239.8" cy="102.1" r="1.45" fill="#262626"/>
<circle cx="239.8" cy="110.3" r="1.45" fill="#262626"/>
<circle cx="239.8" cy="118.4" r="1.45" fill="#262626"/>
<circle cx="239.8" cy="126.5" r="1.45" fill="#262626"/>
<circle cx="239.8" cy="150.8" r="1.45" fill="#262626"/>
<circle cx="239.8" cy="158.9" r="1.45" fill="#262626"/>
<circle cx="239.8" cy="167.1" r="1.45" fill="#262626"/>
<circle cx="239.8" cy="175.2" r="1.45" fill="#262626"/>
<circle cx="239.8" cy="183.3" r="1.45" fill="#262626"/>
<circle cx="248.0" cy="94.0" r="1.45" fill="#262626"/>
<circle cx="248.0" cy="102.1" r="1.45" fill="#262626"/>
<circle cx="248.0" cy="110.3" r="1.45" fill="#262626"/>
<circle cx="248.0" cy="118.4" r="1.45" fill="#262626"/>
<circle cx="248.0" cy="126.5" r="1.45" fill="#262626"/>
<circle cx="248.0" cy="150.8" r="1.45" fill="#262626"/>
<circle cx="248.0" cy="158.9" r="1.45" fill="#262626"/>
<circle cx="248.0" cy="167.1" r="1.45" fill="#262626"/>
<circle cx="248.0" cy="175.2" r="1.45" fill="#262626"/>
<circle cx="248.0" cy="183.3" r="1.45" fill="#262626"/>
<circle cx="256.1" cy="94.0" r="1.45" fill="#262626"/>
<circle cx="256.1" cy="102.1" r="1.45" fill="#262626"/>
<circle cx="256.1" cy="110.3" r="1.45" fill="#262626"/>
<circle cx="256.1" cy="118.4" r="1.45" fill="#262626"/>
<circle cx="256.1" cy="126.5" r="1.45" fill="#262626"/>
<circle cx="256.1" cy="150.8" r="1.45" fill="#262626"/>
<circle cx="256.1" cy="158.9" r="1.45" fill="#262626"/>
<circle cx="256.1" cy="167.1" r="1.45" fill="#262626"/>
<circle cx="256.1" cy="175.2" r="1.45" fill="#262626"/>
<circle cx="256.1" cy="183.3" r="1.45" fill="#262626"/>
<circle cx="264.2" cy="94.0" r="2.7" fill="#c6e5c6"/><circle cx="264.2" cy="94.0" r="1.45" fill="#2f6b37"/>
<circle cx="264.2" cy="102.1" r="2.7" fill="#c6e5c6"/><circle cx="264.2" cy="102.1" r="1.45" fill="#2f6b37"/>
<circle cx="264.2" cy="110.3" r="2.7" fill="#c6e5c6"/><circle cx="264.2" cy="110.3" r="1.45" fill="#2f6b37"/>
<circle cx="264.2" cy="118.4" r="2.7" fill="#c6e5c6"/><circle cx="264.2" cy="118.4" r="1.45" fill="#2f6b37"/>
<circle cx="264.2" cy="126.5" r="2.7" fill="#c6e5c6"/><circle cx="264.2" cy="126.5" r="1.45" fill="#2f6b37"/>
<circle cx="264.2" cy="150.8" r="2.7" fill="#c6e5c6"/><circle cx="264.2" cy="150.8" r="1.45" fill="#2f6b37"/>
<circle cx="264.2" cy="158.9" r="2.7" fill="#c6e5c6"/><circle cx="264.2" cy="158.9" r="1.45" fill="#2f6b37"/>
<circle cx="264.2" cy="167.1" r="2.7" fill="#c6e5c6"/><circle cx="264.2" cy="167.1" r="1.45" fill="#2f6b37"/>
<circle cx="264.2" cy="175.2" r="2.7" fill="#c6e5c6"/><circle cx="264.2" cy="175.2" r="1.45" fill="#2f6b37"/>
<circle cx="264.2" cy="183.3" r="2.7" fill="#c6e5c6"/><circle cx="264.2" cy="183.3" r="1.45" fill="#2f6b37"/>
<circle cx="272.4" cy="94.0" r="2.7" fill="#c6e5c6"/><circle cx="272.4" cy="94.0" r="1.45" fill="#2f6b37"/>
<circle cx="272.4" cy="102.1" r="2.7" fill="#c6e5c6"/><circle cx="272.4" cy="102.1" r="1.45" fill="#2f6b37"/>
<circle cx="272.4" cy="110.3" r="2.7" fill="#c6e5c6"/><circle cx="272.4" cy="110.3" r="1.45" fill="#2f6b37"/>
<circle cx="272.4" cy="118.4" r="2.7" fill="#c6e5c6"/><circle cx="272.4" cy="118.4" r="1.45" fill="#2f6b37"/>
<circle cx="272.4" cy="126.5" r="2.7" fill="#c6e5c6"/><circle cx="272.4" cy="126.5" r="1.45" fill="#2f6b37"/>
<circle cx="272.4" cy="150.8" r="1.45" fill="#262626"/>
<circle cx="272.4" cy="158.9" r="1.45" fill="#262626"/>
<circle cx="272.4" cy="167.1" r="1.45" fill="#262626"/>
<circle cx="272.4" cy="175.2" r="1.45" fill="#262626"/>
<circle cx="272.4" cy="183.3" r="1.45" fill="#262626"/>
<circle cx="280.5" cy="94.0" r="2.7" fill="#c6e5c6"/><circle cx="280.5" cy="94.0" r="1.45" fill="#2f6b37"/>
<circle cx="280.5" cy="102.1" r="2.7" fill="#c6e5c6"/><circle cx="280.5" cy="102.1" r="1.45" fill="#2f6b37"/>
<circle cx="280.5" cy="110.3" r="2.7" fill="#c6e5c6"/><circle cx="280.5" cy="110.3" r="1.45" fill="#2f6b37"/>
<circle cx="280.5" cy="118.4" r="2.7" fill="#c6e5c6"/><circle cx="280.5" cy="118.4" r="1.45" fill="#2f6b37"/>
<circle cx="280.5" cy="126.5" r="2.7" fill="#c6e5c6"/><circle cx="280.5" cy="126.5" r="1.45" fill="#2f6b37"/>
<circle cx="280.5" cy="150.8" r="2.7" fill="#c6e5c6"/><circle cx="280.5" cy="150.8" r="1.45" fill="#2f6b37"/>
<circle cx="280.5" cy="158.9" r="2.7" fill="#c6e5c6"/><circle cx="280.5" cy="158.9" r="1.45" fill="#2f6b37"/>
<circle cx="280.5" cy="167.1" r="2.7" fill="#c6e5c6"/><circle cx="280.5" cy="167.1" r="1.45" fill="#2f6b37"/>
<circle cx="280.5" cy="175.2" r="2.7" fill="#c6e5c6"/><circle cx="280.5" cy="175.2" r="1.45" fill="#2f6b37"/>
<circle cx="280.5" cy="183.3" r="2.7" fill="#c6e5c6"/><circle cx="280.5" cy="183.3" r="1.45" fill="#2f6b37"/>
<circle cx="288.6" cy="94.0" r="2.7" fill="#c6e5c6"/><circle cx="288.6" cy="94.0" r="1.45" fill="#2f6b37"/>
<circle cx="288.6" cy="102.1" r="2.7" fill="#c6e5c6"/><circle cx="288.6" cy="102.1" r="1.45" fill="#2f6b37"/>
<circle cx="288.6" cy="110.3" r="2.7" fill="#c6e5c6"/><circle cx="288.6" cy="110.3" r="1.45" fill="#2f6b37"/>
<circle cx="288.6" cy="118.4" r="2.7" fill="#c6e5c6"/><circle cx="288.6" cy="118.4" r="1.45" fill="#2f6b37"/>
<circle cx="288.6" cy="126.5" r="2.7" fill="#c6e5c6"/><circle cx="288.6" cy="126.5" r="1.45" fill="#2f6b37"/>
<circle cx="288.6" cy="150.8" r="1.45" fill="#262626"/>
<circle cx="288.6" cy="158.9" r="1.45" fill="#262626"/>
<circle cx="288.6" cy="167.1" r="1.45" fill="#262626"/>
<circle cx="288.6" cy="175.2" r="1.45" fill="#262626"/>
<circle cx="288.6" cy="183.3" r="1.45" fill="#262626"/>
<circle cx="296.8" cy="94.0" r="2.7" fill="#c6e5c6"/><circle cx="296.8" cy="94.0" r="1.45" fill="#2f6b37"/>
<circle cx="296.8" cy="102.1" r="2.7" fill="#c6e5c6"/><circle cx="296.8" cy="102.1" r="1.45" fill="#2f6b37"/>
<circle cx="296.8" cy="110.3" r="2.7" fill="#c6e5c6"/><circle cx="296.8" cy="110.3" r="1.45" fill="#2f6b37"/>
<circle cx="296.8" cy="118.4" r="2.7" fill="#c6e5c6"/><circle cx="296.8" cy="118.4" r="1.45" fill="#2f6b37"/>
<circle cx="296.8" cy="126.5" r="2.7" fill="#c6e5c6"/><circle cx="296.8" cy="126.5" r="1.45" fill="#2f6b37"/>
<circle cx="296.8" cy="150.8" r="2.7" fill="#c6e5c6"/><circle cx="296.8" cy="150.8" r="1.45" fill="#2f6b37"/>
<circle cx="296.8" cy="158.9" r="2.7" fill="#c6e5c6"/><circle cx="296.8" cy="158.9" r="1.45" fill="#2f6b37"/>
<circle cx="296.8" cy="167.1" r="2.7" fill="#c6e5c6"/><circle cx="296.8" cy="167.1" r="1.45" fill="#2f6b37"/>
<circle cx="296.8" cy="175.2" r="2.7" fill="#c6e5c6"/><circle cx="296.8" cy="175.2" r="1.45" fill="#2f6b37"/>
<circle cx="296.8" cy="183.3" r="2.7" fill="#c6e5c6"/><circle cx="296.8" cy="183.3" r="1.45" fill="#2f6b37"/>
<circle cx="304.9" cy="94.0" r="2.7" fill="#c6e5c6"/><circle cx="304.9" cy="94.0" r="1.45" fill="#2f6b37"/>
<circle cx="304.9" cy="102.1" r="2.7" fill="#c6e5c6"/><circle cx="304.9" cy="102.1" r="1.45" fill="#2f6b37"/>
<circle cx="304.9" cy="110.3" r="2.7" fill="#c6e5c6"/><circle cx="304.9" cy="110.3" r="1.45" fill="#2f6b37"/>
<circle cx="304.9" cy="118.4" r="2.7" fill="#c6e5c6"/><circle cx="304.9" cy="118.4" r="1.45" fill="#2f6b37"/>
<circle cx="304.9" cy="126.5" r="2.7" fill="#c6e5c6"/><circle cx="304.9" cy="126.5" r="1.45" fill="#2f6b37"/>
<circle cx="304.9" cy="150.8" r="1.45" fill="#262626"/>
<circle cx="304.9" cy="158.9" r="1.45" fill="#262626"/>
<circle cx="304.9" cy="167.1" r="1.45" fill="#262626"/>
<circle cx="304.9" cy="175.2" r="1.45" fill="#262626"/>
<circle cx="304.9" cy="183.3" r="1.45" fill="#262626"/>
<circle cx="313.0" cy="94.0" r="2.7" fill="#c6e5c6"/><circle cx="313.0" cy="94.0" r="1.45" fill="#2f6b37"/>
<circle cx="313.0" cy="102.1" r="2.7" fill="#c6e5c6"/><circle cx="313.0" cy="102.1" r="1.45" fill="#2f6b37"/>
<circle cx="313.0" cy="110.3" r="2.7" fill="#c6e5c6"/><circle cx="313.0" cy="110.3" r="1.45" fill="#2f6b37"/>
<circle cx="313.0" cy="118.4" r="2.7" fill="#c6e5c6"/><circle cx="313.0" cy="118.4" r="1.45" fill="#2f6b37"/>
<circle cx="313.0" cy="126.5" r="2.7" fill="#c6e5c6"/><circle cx="313.0" cy="126.5" r="1.45" fill="#2f6b37"/>
<circle cx="313.0" cy="150.8" r="2.7" fill="#c6e5c6"/><circle cx="313.0" cy="150.8" r="1.45" fill="#2f6b37"/>
<circle cx="313.0" cy="158.9" r="2.7" fill="#c6e5c6"/><circle cx="313.0" cy="158.9" r="1.45" fill="#2f6b37"/>
<circle cx="313.0" cy="167.1" r="2.7" fill="#c6e5c6"/><circle cx="313.0" cy="167.1" r="1.45" fill="#2f6b37"/>
<circle cx="313.0" cy="175.2" r="2.7" fill="#c6e5c6"/><circle cx="313.0" cy="175.2" r="1.45" fill="#2f6b37"/>
<circle cx="313.0" cy="183.3" r="2.7" fill="#c6e5c6"/><circle cx="313.0" cy="183.3" r="1.45" fill="#2f6b37"/>
<circle cx="321.1" cy="94.0" r="2.7" fill="#c6e5c6"/><circle cx="321.1" cy="94.0" r="1.45" fill="#2f6b37"/>
<circle cx="321.1" cy="102.1" r="2.7" fill="#c6e5c6"/><circle cx="321.1" cy="102.1" r="1.45" fill="#2f6b37"/>
<circle cx="321.1" cy="110.3" r="2.7" fill="#c6e5c6"/><circle cx="321.1" cy="110.3" r="1.45" fill="#2f6b37"/>
<circle cx="321.1" cy="118.4" r="2.7" fill="#c6e5c6"/><circle cx="321.1" cy="118.4" r="1.45" fill="#2f6b37"/>
<circle cx="321.1" cy="126.5" r="2.7" fill="#c6e5c6"/><circle cx="321.1" cy="126.5" r="1.45" fill="#2f6b37"/>
<circle cx="321.1" cy="150.8" r="1.45" fill="#262626"/>
<circle cx="321.1" cy="158.9" r="1.45" fill="#262626"/>
<circle cx="321.1" cy="167.1" r="1.45" fill="#262626"/>
<circle cx="321.1" cy="175.2" r="1.45" fill="#262626"/>
<circle cx="321.1" cy="183.3" r="1.45" fill="#262626"/>
<circle cx="329.3" cy="94.0" r="2.7" fill="#c6e5c6"/><circle cx="329.3" cy="94.0" r="1.45" fill="#2f6b37"/>
<circle cx="329.3" cy="102.1" r="2.7" fill="#c6e5c6"/><circle cx="329.3" cy="102.1" r="1.45" fill="#2f6b37"/>
<circle cx="329.3" cy="110.3" r="2.7" fill="#c6e5c6"/><circle cx="329.3" cy="110.3" r="1.45" fill="#2f6b37"/>
<circle cx="329.3" cy="118.4" r="2.7" fill="#c6e5c6"/><circle cx="329.3" cy="118.4" r="1.45" fill="#2f6b37"/>
<circle cx="329.3" cy="126.5" r="2.7" fill="#c6e5c6"/><circle cx="329.3" cy="126.5" r="1.45" fill="#2f6b37"/>
<circle cx="329.3" cy="150.8" r="2.7" fill="#c6e5c6"/><circle cx="329.3" cy="150.8" r="1.45" fill="#2f6b37"/>
<circle cx="329.3" cy="158.9" r="2.7" fill="#c6e5c6"/><circle cx="329.3" cy="158.9" r="1.45" fill="#2f6b37"/>
<circle cx="329.3" cy="167.1" r="2.7" fill="#c6e5c6"/><circle cx="329.3" cy="167.1" r="1.45" fill="#2f6b37"/>
<circle cx="329.3" cy="175.2" r="2.7" fill="#c6e5c6"/><circle cx="329.3" cy="175.2" r="1.45" fill="#2f6b37"/>
<circle cx="329.3" cy="183.3" r="2.7" fill="#c6e5c6"/><circle cx="329.3" cy="183.3" r="1.45" fill="#2f6b37"/>
<circle cx="337.4" cy="94.0" r="2.7" fill="#c6e5c6"/><circle cx="337.4" cy="94.0" r="1.45" fill="#2f6b37"/>
<circle cx="337.4" cy="102.1" r="2.7" fill="#c6e5c6"/><circle cx="337.4" cy="102.1" r="1.45" fill="#2f6b37"/>
<circle cx="337.4" cy="110.3" r="2.7" fill="#c6e5c6"/><circle cx="337.4" cy="110.3" r="1.45" fill="#2f6b37"/>
<circle cx="337.4" cy="118.4" r="2.7" fill="#c6e5c6"/><circle cx="337.4" cy="118.4" r="1.45" fill="#2f6b37"/>
<circle cx="337.4" cy="126.5" r="2.7" fill="#c6e5c6"/><circle cx="337.4" cy="126.5" r="1.45" fill="#2f6b37"/>
<circle cx="337.4" cy="150.8" r="1.45" fill="#262626"/>
<circle cx="337.4" cy="158.9" r="1.45" fill="#262626"/>
<circle cx="337.4" cy="167.1" r="1.45" fill="#262626"/>
<circle cx="337.4" cy="175.2" r="1.45" fill="#262626"/>
<circle cx="337.4" cy="183.3" r="1.45" fill="#262626"/>
<circle cx="345.5" cy="94.0" r="2.7" fill="#c6e5c6"/><circle cx="345.5" cy="94.0" r="1.45" fill="#2f6b37"/>
<circle cx="345.5" cy="102.1" r="2.7" fill="#c6e5c6"/><circle cx="345.5" cy="102.1" r="1.45" fill="#2f6b37"/>
<circle cx="345.5" cy="110.3" r="2.7" fill="#c6e5c6"/><circle cx="345.5" cy="110.3" r="1.45" fill="#2f6b37"/>
<circle cx="345.5" cy="118.4" r="2.7" fill="#c6e5c6"/><circle cx="345.5" cy="118.4" r="1.45" fill="#2f6b37"/>
<circle cx="345.5" cy="126.5" r="2.7" fill="#c6e5c6"/><circle cx="345.5" cy="126.5" r="1.45" fill="#2f6b37"/>
<circle cx="345.5" cy="150.8" r="2.7" fill="#c6e5c6"/><circle cx="345.5" cy="150.8" r="1.45" fill="#2f6b37"/>
<circle cx="345.5" cy="158.9" r="2.7" fill="#c6e5c6"/><circle cx="345.5" cy="158.9" r="1.45" fill="#2f6b37"/>
<circle cx="345.5" cy="167.1" r="2.7" fill="#c6e5c6"/><circle cx="345.5" cy="167.1" r="1.45" fill="#2f6b37"/>
<circle cx="345.5" cy="175.2" r="2.7" fill="#c6e5c6"/><circle cx="345.5" cy="175.2" r="1.45" fill="#2f6b37"/>
<circle cx="345.5" cy="183.3" r="2.7" fill="#c6e5c6"/><circle cx="345.5" cy="183.3" r="1.45" fill="#2f6b37"/>
<circle cx="353.7" cy="94.0" r="2.7" fill="#c6e5c6"/><circle cx="353.7" cy="94.0" r="1.45" fill="#2f6b37"/>
<circle cx="353.7" cy="102.1" r="2.7" fill="#c6e5c6"/><circle cx="353.7" cy="102.1" r="1.45" fill="#2f6b37"/>
<circle cx="353.7" cy="110.3" r="2.7" fill="#c6e5c6"/><circle cx="353.7" cy="110.3" r="1.45" fill="#2f6b37"/>
<circle cx="353.7" cy="118.4" r="2.7" fill="#c6e5c6"/><circle cx="353.7" cy="118.4" r="1.45" fill="#2f6b37"/>
<circle cx="353.7" cy="126.5" r="2.7" fill="#c6e5c6"/><circle cx="353.7" cy="126.5" r="1.45" fill="#2f6b37"/>
<circle cx="353.7" cy="150.8" r="1.45" fill="#262626"/>
<circle cx="353.7" cy="158.9" r="1.45" fill="#262626"/>
<circle cx="353.7" cy="167.1" r="1.45" fill="#262626"/>
<circle cx="353.7" cy="175.2" r="1.45" fill="#262626"/>
<circle cx="353.7" cy="183.3" r="1.45" fill="#262626"/>
<circle cx="361.8" cy="94.0" r="1.45" fill="#262626"/>
<circle cx="361.8" cy="102.1" r="1.45" fill="#262626"/>
<circle cx="361.8" cy="110.3" r="1.45" fill="#262626"/>
<circle cx="361.8" cy="118.4" r="1.45" fill="#262626"/>
<circle cx="361.8" cy="126.5" r="1.45" fill="#262626"/>
<circle cx="361.8" cy="150.8" r="1.45" fill="#262626"/>
<circle cx="361.8" cy="158.9" r="1.45" fill="#262626"/>
<circle cx="361.8" cy="167.1" r="1.45" fill="#262626"/>
<circle cx="361.8" cy="175.2" r="1.45" fill="#262626"/>
<circle cx="361.8" cy="183.3" r="1.45" fill="#262626"/>
<circle cx="369.9" cy="94.0" r="1.45" fill="#262626"/>
<circle cx="369.9" cy="102.1" r="1.45" fill="#262626"/>
<circle cx="369.9" cy="110.3" r="1.45" fill="#262626"/>
<circle cx="369.9" cy="118.4" r="1.45" fill="#262626"/>
<circle cx="369.9" cy="126.5" r="1.45" fill="#262626"/>
<circle cx="369.9" cy="150.8" r="1.45" fill="#262626"/>
<circle cx="369.9" cy="158.9" r="1.45" fill="#262626"/>
<circle cx="369.9" cy="167.1" r="1.45" fill="#262626"/>
<circle cx="369.9" cy="175.2" r="1.45" fill="#262626"/>
<circle cx="369.9" cy="183.3" r="1.45" fill="#262626"/>
<circle cx="378.1" cy="94.0" r="1.45" fill="#262626"/>
<circle cx="378.1" cy="102.1" r="1.45" fill="#262626"/>
<circle cx="378.1" cy="110.3" r="1.45" fill="#262626"/>
<circle cx="378.1" cy="118.4" r="1.45" fill="#262626"/>
<circle cx="378.1" cy="126.5" r="1.45" fill="#262626"/>
<circle cx="378.1" cy="150.8" r="1.45" fill="#262626"/>
<circle cx="378.1" cy="158.9" r="1.45" fill="#262626"/>
<circle cx="378.1" cy="167.1" r="1.45" fill="#262626"/>
<circle cx="378.1" cy="175.2" r="1.45" fill="#262626"/>
<circle cx="378.1" cy="183.3" r="1.45" fill="#262626"/>
<circle cx="386.2" cy="94.0" r="1.45" fill="#262626"/>
<circle cx="386.2" cy="102.1" r="1.45" fill="#262626"/>
<circle cx="386.2" cy="110.3" r="1.45" fill="#262626"/>
<circle cx="386.2" cy="118.4" r="1.45" fill="#262626"/>
<circle cx="386.2" cy="126.5" r="1.45" fill="#262626"/>
<circle cx="386.2" cy="150.8" r="1.45" fill="#262626"/>
<circle cx="386.2" cy="158.9" r="1.45" fill="#262626"/>
<circle cx="386.2" cy="167.1" r="1.45" fill="#262626"/>
<circle cx="386.2" cy="175.2" r="1.45" fill="#262626"/>
<circle cx="386.2" cy="183.3" r="1.45" fill="#262626"/>
<circle cx="394.3" cy="94.0" r="1.45" fill="#262626"/>
<circle cx="394.3" cy="102.1" r="1.45" fill="#262626"/>
<circle cx="394.3" cy="110.3" r="1.45" fill="#262626"/>
<circle cx="394.3" cy="118.4" r="1.45" fill="#262626"/>
<circle cx="394.3" cy="126.5" r="1.45" fill="#262626"/>
<circle cx="394.3" cy="150.8" r="1.45" fill="#262626"/>
<circle cx="394.3" cy="158.9" r="1.45" fill="#262626"/>
<circle cx="394.3" cy="167.1" r="1.45" fill="#262626"/>
<circle cx="394.3" cy="175.2" r="1.45" fill="#262626"/>
<circle cx="394.3" cy="183.3" r="1.45" fill="#262626"/>
<circle cx="402.4" cy="94.0" r="1.45" fill="#262626"/>
<circle cx="402.4" cy="102.1" r="1.45" fill="#262626"/>
<circle cx="402.4" cy="110.3" r="1.45" fill="#262626"/>
<circle cx="402.4" cy="118.4" r="1.45" fill="#262626"/>
<circle cx="402.4" cy="126.5" r="1.45" fill="#262626"/>
<circle cx="402.4" cy="150.8" r="1.45" fill="#262626"/>
<circle cx="402.4" cy="158.9" r="1.45" fill="#262626"/>
<circle cx="402.4" cy="167.1" r="1.45" fill="#262626"/>
<circle cx="402.4" cy="175.2" r="1.45" fill="#262626"/>
<circle cx="402.4" cy="183.3" r="1.45" fill="#262626"/>
<circle cx="410.6" cy="94.0" r="1.45" fill="#262626"/>
<circle cx="410.6" cy="102.1" r="1.45" fill="#262626"/>
<circle cx="410.6" cy="110.3" r="1.45" fill="#262626"/>
<circle cx="410.6" cy="118.4" r="1.45" fill="#262626"/>
<circle cx="410.6" cy="126.5" r="1.45" fill="#262626"/>
<circle cx="410.6" cy="150.8" r="1.45" fill="#262626"/>
<circle cx="410.6" cy="158.9" r="1.45" fill="#262626"/>
<circle cx="410.6" cy="167.1" r="1.45" fill="#262626"/>
<circle cx="410.6" cy="175.2" r="1.45" fill="#262626"/>
<circle cx="410.6" cy="183.3" r="1.45" fill="#262626"/>
<circle cx="418.7" cy="94.0" r="2.7" fill="#c6e5c6"/><circle cx="418.7" cy="94.0" r="1.45" fill="#2f6b37"/>
<circle cx="418.7" cy="102.1" r="2.7" fill="#c6e5c6"/><circle cx="418.7" cy="102.1" r="1.45" fill="#2f6b37"/>
<circle cx="418.7" cy="110.3" r="2.7" fill="#c6e5c6"/><circle cx="418.7" cy="110.3" r="1.45" fill="#2f6b37"/>
<circle cx="418.7" cy="118.4" r="2.7" fill="#c6e5c6"/><circle cx="418.7" cy="118.4" r="1.45" fill="#2f6b37"/>
<circle cx="418.7" cy="126.5" r="2.7" fill="#c6e5c6"/><circle cx="418.7" cy="126.5" r="1.45" fill="#2f6b37"/>
<circle cx="418.7" cy="150.8" r="2.7" fill="#c6e5c6"/><circle cx="418.7" cy="150.8" r="1.45" fill="#2f6b37"/>
<circle cx="418.7" cy="158.9" r="2.7" fill="#c6e5c6"/><circle cx="418.7" cy="158.9" r="1.45" fill="#2f6b37"/>
<circle cx="418.7" cy="167.1" r="2.7" fill="#c6e5c6"/><circle cx="418.7" cy="167.1" r="1.45" fill="#2f6b37"/>
<circle cx="418.7" cy="175.2" r="2.7" fill="#c6e5c6"/><circle cx="418.7" cy="175.2" r="1.45" fill="#2f6b37"/>
<circle cx="418.7" cy="183.3" r="2.7" fill="#c6e5c6"/><circle cx="418.7" cy="183.3" r="1.45" fill="#2f6b37"/>
<circle cx="426.8" cy="94.0" r="2.7" fill="#c6e5c6"/><circle cx="426.8" cy="94.0" r="1.45" fill="#2f6b37"/>
<circle cx="426.8" cy="102.1" r="2.7" fill="#c6e5c6"/><circle cx="426.8" cy="102.1" r="1.45" fill="#2f6b37"/>
<circle cx="426.8" cy="110.3" r="2.7" fill="#c6e5c6"/><circle cx="426.8" cy="110.3" r="1.45" fill="#2f6b37"/>
<circle cx="426.8" cy="118.4" r="2.7" fill="#c6e5c6"/><circle cx="426.8" cy="118.4" r="1.45" fill="#2f6b37"/>
<circle cx="426.8" cy="126.5" r="2.7" fill="#c6e5c6"/><circle cx="426.8" cy="126.5" r="1.45" fill="#2f6b37"/>
<circle cx="426.8" cy="150.8" r="1.45" fill="#262626"/>
<circle cx="426.8" cy="158.9" r="1.45" fill="#262626"/>
<circle cx="426.8" cy="167.1" r="1.45" fill="#262626"/>
<circle cx="426.8" cy="175.2" r="1.45" fill="#262626"/>
<circle cx="426.8" cy="183.3" r="1.45" fill="#262626"/>
<circle cx="435.0" cy="94.0" r="1.45" fill="#262626"/>
<circle cx="435.0" cy="102.1" r="1.45" fill="#262626"/>
<circle cx="435.0" cy="110.3" r="1.45" fill="#262626"/>
<circle cx="435.0" cy="118.4" r="1.45" fill="#262626"/>
<circle cx="435.0" cy="126.5" r="1.45" fill="#262626"/>
<circle cx="435.0" cy="150.8" r="1.45" fill="#262626"/>
<circle cx="435.0" cy="158.9" r="1.45" fill="#262626"/>
<circle cx="435.0" cy="167.1" r="1.45" fill="#262626"/>
<circle cx="435.0" cy="175.2" r="1.45" fill="#262626"/>
<circle cx="435.0" cy="183.3" r="1.45" fill="#262626"/>
<circle cx="443.1" cy="94.0" r="1.45" fill="#262626"/>
<circle cx="443.1" cy="102.1" r="1.45" fill="#262626"/>
<circle cx="443.1" cy="110.3" r="1.45" fill="#262626"/>
<circle cx="443.1" cy="118.4" r="1.45" fill="#262626"/>
<circle cx="443.1" cy="126.5" r="1.45" fill="#262626"/>
<circle cx="443.1" cy="150.8" r="1.45" fill="#262626"/>
<circle cx="443.1" cy="158.9" r="1.45" fill="#262626"/>
<circle cx="443.1" cy="167.1" r="1.45" fill="#262626"/>
<circle cx="443.1" cy="175.2" r="1.45" fill="#262626"/>
<circle cx="443.1" cy="183.3" r="1.45" fill="#262626"/>
<circle cx="451.2" cy="94.0" r="1.45" fill="#262626"/>
<circle cx="451.2" cy="102.1" r="1.45" fill="#262626"/>
<circle cx="451.2" cy="110.3" r="1.45" fill="#262626"/>
<circle cx="451.2" cy="118.4" r="1.45" fill="#262626"/>
<circle cx="451.2" cy="126.5" r="1.45" fill="#262626"/>
<circle cx="451.2" cy="150.8" r="1.45" fill="#262626"/>
<circle cx="451.2" cy="158.9" r="1.45" fill="#262626"/>
<circle cx="451.2" cy="167.1" r="1.45" fill="#262626"/>
<circle cx="451.2" cy="175.2" r="1.45" fill="#262626"/>
<circle cx="451.2" cy="183.3" r="1.45" fill="#262626"/>
<circle cx="459.4" cy="94.0" r="1.45" fill="#262626"/>
<circle cx="459.4" cy="102.1" r="1.45" fill="#262626"/>
<circle cx="459.4" cy="110.3" r="1.45" fill="#262626"/>
<circle cx="459.4" cy="118.4" r="1.45" fill="#262626"/>
<circle cx="459.4" cy="126.5" r="1.45" fill="#262626"/>
<circle cx="459.4" cy="150.8" r="1.45" fill="#262626"/>
<circle cx="459.4" cy="158.9" r="1.45" fill="#262626"/>
<circle cx="459.4" cy="167.1" r="1.45" fill="#262626"/>
<circle cx="459.4" cy="175.2" r="1.45" fill="#262626"/>
<circle cx="459.4" cy="183.3" r="1.45" fill="#262626"/>
<circle cx="467.5" cy="94.0" r="1.45" fill="#262626"/>
<circle cx="467.5" cy="102.1" r="1.45" fill="#262626"/>
<circle cx="467.5" cy="110.3" r="1.45" fill="#262626"/>
<circle cx="467.5" cy="118.4" r="1.45" fill="#262626"/>
<circle cx="467.5" cy="126.5" r="1.45" fill="#262626"/>
<circle cx="467.5" cy="150.8" r="1.45" fill="#262626"/>
<circle cx="467.5" cy="158.9" r="1.45" fill="#262626"/>
<circle cx="467.5" cy="167.1" r="1.45" fill="#262626"/>
<circle cx="467.5" cy="175.2" r="1.45" fill="#262626"/>
<circle cx="467.5" cy="183.3" r="1.45" fill="#262626"/>
<circle cx="475.6" cy="94.0" r="1.45" fill="#262626"/>
<circle cx="475.6" cy="102.1" r="1.45" fill="#262626"/>
<circle cx="475.6" cy="110.3" r="1.45" fill="#262626"/>
<circle cx="475.6" cy="118.4" r="1.45" fill="#262626"/>
<circle cx="475.6" cy="126.5" r="1.45" fill="#262626"/>
<circle cx="475.6" cy="150.8" r="1.45" fill="#262626"/>
<circle cx="475.6" cy="158.9" r="1.45" fill="#262626"/>
<circle cx="475.6" cy="167.1" r="1.45" fill="#262626"/>
<circle cx="475.6" cy="175.2" r="1.45" fill="#262626"/>
<circle cx="475.6" cy="183.3" r="1.45" fill="#262626"/>
<circle cx="483.7" cy="94.0" r="1.45" fill="#262626"/>
<circle cx="483.7" cy="102.1" r="1.45" fill="#262626"/>
<circle cx="483.7" cy="110.3" r="1.45" fill="#262626"/>
<circle cx="483.7" cy="118.4" r="1.45" fill="#262626"/>
<circle cx="483.7" cy="126.5" r="1.45" fill="#262626"/>
<circle cx="483.7" cy="150.8" r="1.45" fill="#262626"/>
<circle cx="483.7" cy="158.9" r="1.45" fill="#262626"/>
<circle cx="483.7" cy="167.1" r="1.45" fill="#262626"/>
<circle cx="483.7" cy="175.2" r="1.45" fill="#262626"/>
<circle cx="483.7" cy="183.3" r="1.45" fill="#262626"/>
<circle cx="491.9" cy="94.0" r="1.45" fill="#262626"/>
<circle cx="491.9" cy="102.1" r="1.45" fill="#262626"/>
<circle cx="491.9" cy="110.3" r="1.45" fill="#262626"/>
<circle cx="491.9" cy="118.4" r="1.45" fill="#262626"/>
<circle cx="491.9" cy="126.5" r="1.45" fill="#262626"/>
<circle cx="491.9" cy="150.8" r="1.45" fill="#262626"/>
<circle cx="491.9" cy="158.9" r="1.45" fill="#262626"/>
<circle cx="491.9" cy="167.1" r="1.45" fill="#262626"/>
<circle cx="491.9" cy="175.2" r="1.45" fill="#262626"/>
<circle cx="491.9" cy="183.3" r="1.45" fill="#262626"/>
<circle cx="500.0" cy="94.0" r="1.45" fill="#262626"/>
<circle cx="500.0" cy="102.1" r="1.45" fill="#262626"/>
<circle cx="500.0" cy="110.3" r="1.45" fill="#262626"/>
<circle cx="500.0" cy="118.4" r="1.45" fill="#262626"/>
<circle cx="500.0" cy="126.5" r="1.45" fill="#262626"/>
<circle cx="500.0" cy="150.8" r="1.45" fill="#262626"/>
<circle cx="500.0" cy="158.9" r="1.45" fill="#262626"/>
<circle cx="500.0" cy="167.1" r="1.45" fill="#262626"/>
<circle cx="500.0" cy="175.2" r="1.45" fill="#262626"/>
<circle cx="500.0" cy="183.3" r="1.45" fill="#262626"/>
<circle cx="508.1" cy="94.0" r="1.45" fill="#262626"/>
<circle cx="508.1" cy="102.1" r="1.45" fill="#262626"/>
<circle cx="508.1" cy="110.3" r="1.45" fill="#262626"/>
<circle cx="508.1" cy="118.4" r="1.45" fill="#262626"/>
<circle cx="508.1" cy="126.5" r="1.45" fill="#262626"/>
<circle cx="508.1" cy="150.8" r="1.45" fill="#262626"/>
<circle cx="508.1" cy="158.9" r="1.45" fill="#262626"/>
<circle cx="508.1" cy="167.1" r="1.45" fill="#262626"/>
<circle cx="508.1" cy="175.2" r="1.45" fill="#262626"/>
<circle cx="508.1" cy="183.3" r="1.45" fill="#262626"/>
<circle cx="516.3" cy="94.0" r="1.45" fill="#262626"/>
<circle cx="516.3" cy="102.1" r="1.45" fill="#262626"/>
<circle cx="516.3" cy="110.3" r="1.45" fill="#262626"/>
<circle cx="516.3" cy="118.4" r="1.45" fill="#262626"/>
<circle cx="516.3" cy="126.5" r="1.45" fill="#262626"/>
<circle cx="516.3" cy="150.8" r="1.45" fill="#262626"/>
<circle cx="516.3" cy="158.9" r="1.45" fill="#262626"/>
<circle cx="516.3" cy="167.1" r="1.45" fill="#262626"/>
<circle cx="516.3" cy="175.2" r="1.45" fill="#262626"/>
<circle cx="516.3" cy="183.3" r="1.45" fill="#262626"/>
<text x="12.2" y="86.3" font-size="6" fill="#d5d5d5" text-anchor="middle">1</text>
<text x="12.2" y="195.5" font-size="6" fill="#d5d5d5" text-anchor="middle">1</text>
<text x="44.7" y="86.3" font-size="6" fill="#d5d5d5" text-anchor="middle">5</text>
<text x="44.7" y="195.5" font-size="6" fill="#d5d5d5" text-anchor="middle">5</text>
<text x="85.4" y="86.3" font-size="6" fill="#d5d5d5" text-anchor="middle">10</text>
<text x="85.4" y="195.5" font-size="6" fill="#d5d5d5" text-anchor="middle">10</text>
<text x="126.0" y="86.3" font-size="6" fill="#d5d5d5" text-anchor="middle">15</text>
<text x="126.0" y="195.5" font-size="6" fill="#d5d5d5" text-anchor="middle">15</text>
<text x="166.7" y="86.3" font-size="6" fill="#d5d5d5" text-anchor="middle">20</text>
<text x="166.7" y="195.5" font-size="6" fill="#d5d5d5" text-anchor="middle">20</text>
<text x="207.3" y="86.3" font-size="6" fill="#d5d5d5" text-anchor="middle">25</text>
<text x="207.3" y="195.5" font-size="6" fill="#d5d5d5" text-anchor="middle">25</text>
<text x="248.0" y="86.3" font-size="6" fill="#d5d5d5" text-anchor="middle">30</text>
<text x="248.0" y="195.5" font-size="6" fill="#d5d5d5" text-anchor="middle">30</text>
<text x="288.6" y="86.3" font-size="6" fill="#d5d5d5" text-anchor="middle">35</text>
<text x="288.6" y="195.5" font-size="6" fill="#d5d5d5" text-anchor="middle">35</text>
<text x="329.3" y="86.3" font-size="6" fill="#d5d5d5" text-anchor="middle">40</text>
<text x="329.3" y="195.5" font-size="6" fill="#d5d5d5" text-anchor="middle">40</text>
<text x="369.9" y="86.3" font-size="6" fill="#d5d5d5" text-anchor="middle">45</text>
<text x="369.9" y="195.5" font-size="6" fill="#d5d5d5" text-anchor="middle">45</text>
<text x="410.6" y="86.3" font-size="6" fill="#d5d5d5" text-anchor="middle">50</text>
<text x="410.6" y="195.5" font-size="6" fill="#d5d5d5" text-anchor="middle">50</text>
<text x="451.2" y="86.3" font-size="6" fill="#d5d5d5" text-anchor="middle">55</text>
<text x="451.2" y="195.5" font-size="6" fill="#d5d5d5" text-anchor="middle">55</text>
<text x="491.9" y="86.3" font-size="6" fill="#d5d5d5" text-anchor="middle">60</text>
<text x="491.9" y="195.5" font-size="6" fill="#d5d5d5" text-anchor="middle">60</text>
<text x="4" y="95.8" font-size="4.8" fill="#d5d5d5" text-anchor="middle">j</text>
<text x="524" y="95.8" font-size="4.8" fill="#d5d5d5" text-anchor="middle">j</text>
<text x="4" y="103.9" font-size="4.8" fill="#d5d5d5" text-anchor="middle">i</text>
<text x="524" y="103.9" font-size="4.8" fill="#d5d5d5" text-anchor="middle">i</text>
<text x="4" y="112.1" font-size="4.8" fill="#d5d5d5" text-anchor="middle">h</text>
<text x="524" y="112.1" font-size="4.8" fill="#d5d5d5" text-anchor="middle">h</text>
<text x="4" y="120.2" font-size="4.8" fill="#d5d5d5" text-anchor="middle">g</text>
<text x="524" y="120.2" font-size="4.8" fill="#d5d5d5" text-anchor="middle">g</text>
<text x="4" y="128.3" font-size="4.8" fill="#d5d5d5" text-anchor="middle">f</text>
<text x="524" y="128.3" font-size="4.8" fill="#d5d5d5" text-anchor="middle">f</text>
<text x="4" y="152.6" font-size="4.8" fill="#d5d5d5" text-anchor="middle">e</text>
<text x="524" y="152.6" font-size="4.8" fill="#d5d5d5" text-anchor="middle">e</text>
<text x="4" y="160.7" font-size="4.8" fill="#d5d5d5" text-anchor="middle">d</text>
<text x="524" y="160.7" font-size="4.8" fill="#d5d5d5" text-anchor="middle">d</text>
<text x="4" y="168.9" font-size="4.8" fill="#d5d5d5" text-anchor="middle">c</text>
<text x="524" y="168.9" font-size="4.8" fill="#d5d5d5" text-anchor="middle">c</text>
<text x="4" y="177.0" font-size="4.8" fill="#d5d5d5" text-anchor="middle">b</text>
<text x="524" y="177.0" font-size="4.8" fill="#d5d5d5" text-anchor="middle">b</text>
<text x="4" y="185.1" font-size="4.8" fill="#d5d5d5" text-anchor="middle">a</text>
<text x="524" y="185.1" font-size="4.8" fill="#d5d5d5" text-anchor="middle">a</text>
<path d="M266.8,105 L264.2,112 L264.2,127" fill="none" stroke="#7e9c84" stroke-width="2"/>
<line x1="272.4" y1="105" x2="272.4" y2="119" stroke="#7e9c84" stroke-width="2"/>
<line x1="264.2" y1="126" x2="264.2" y2="159" stroke="#7e9c84" stroke-width="2"/>
<rect x="260.6" y="133.5" width="7.2" height="19.7" rx="2.2" fill="#d9b57a"/>
<rect x="260.6" y="139.8" width="7.2" height="2.6" fill="#7c3c1c"/>
<rect x="260.6" y="143.7" width="7.2" height="2.6" fill="#c8321e"/>
<rect x="260.6" y="148.0" width="7.2" height="2.6" fill="#c8321e"/>
<path d="M283.1,105 L280.5,112 L280.5,127" fill="none" stroke="#7e9c84" stroke-width="2"/>
<line x1="288.6" y1="105" x2="288.6" y2="119" stroke="#7e9c84" stroke-width="2"/>
<line x1="280.5" y1="126" x2="280.5" y2="159" stroke="#7e9c84" stroke-width="2"/>
<rect x="276.9" y="133.5" width="7.2" height="19.7" rx="2.2" fill="#d9b57a"/>
<rect x="276.9" y="139.8" width="7.2" height="2.6" fill="#7c3c1c"/>
<rect x="276.9" y="143.7" width="7.2" height="2.6" fill="#c8321e"/>
<rect x="276.9" y="148.0" width="7.2" height="2.6" fill="#c8321e"/>
<path d="M299.4,105 L296.8,112 L296.8,127" fill="none" stroke="#7e9c84" stroke-width="2"/>
<line x1="304.9" y1="105" x2="304.9" y2="119" stroke="#7e9c84" stroke-width="2"/>
<line x1="296.8" y1="126" x2="296.8" y2="159" stroke="#7e9c84" stroke-width="2"/>
<rect x="293.1" y="133.5" width="7.2" height="19.7" rx="2.2" fill="#d9b57a"/>
<rect x="293.1" y="139.8" width="7.2" height="2.6" fill="#7c3c1c"/>
<rect x="293.1" y="143.7" width="7.2" height="2.6" fill="#c8321e"/>
<rect x="293.1" y="148.0" width="7.2" height="2.6" fill="#c8321e"/>
<path d="M315.6,105 L313.0,112 L313.0,127" fill="none" stroke="#7e9c84" stroke-width="2"/>
<line x1="321.1" y1="105" x2="321.1" y2="119" stroke="#7e9c84" stroke-width="2"/>
<line x1="313.0" y1="126" x2="313.0" y2="159" stroke="#7e9c84" stroke-width="2"/>
<rect x="309.4" y="133.5" width="7.2" height="19.7" rx="2.2" fill="#d9b57a"/>
<rect x="309.4" y="139.8" width="7.2" height="2.6" fill="#7c3c1c"/>
<rect x="309.4" y="143.7" width="7.2" height="2.6" fill="#c8321e"/>
<rect x="309.4" y="148.0" width="7.2" height="2.6" fill="#c8321e"/>
<path d="M331.9,105 L329.3,112 L329.3,127" fill="none" stroke="#7e9c84" stroke-width="2"/>
<line x1="337.4" y1="105" x2="337.4" y2="119" stroke="#7e9c84" stroke-width="2"/>
<line x1="329.3" y1="126" x2="329.3" y2="159" stroke="#7e9c84" stroke-width="2"/>
<rect x="325.7" y="133.5" width="7.2" height="19.7" rx="2.2" fill="#d9b57a"/>
<rect x="325.7" y="139.8" width="7.2" height="2.6" fill="#7c3c1c"/>
<rect x="325.7" y="143.7" width="7.2" height="2.6" fill="#c8321e"/>
<rect x="325.7" y="148.0" width="7.2" height="2.6" fill="#c8321e"/>
<path d="M348.1,105 L345.5,112 L345.5,127" fill="none" stroke="#7e9c84" stroke-width="2"/>
<line x1="353.7" y1="105" x2="353.7" y2="119" stroke="#7e9c84" stroke-width="2"/>
<line x1="345.5" y1="126" x2="345.5" y2="159" stroke="#7e9c84" stroke-width="2"/>
<rect x="341.9" y="133.5" width="7.2" height="19.7" rx="2.2" fill="#d9b57a"/>
<rect x="341.9" y="139.8" width="7.2" height="2.6" fill="#7c3c1c"/>
<rect x="341.9" y="143.7" width="7.2" height="2.6" fill="#c8321e"/>
<rect x="341.9" y="148.0" width="7.2" height="2.6" fill="#c8321e"/>
<path d="M421.3,105 L418.7,112 L418.7,127" fill="none" stroke="#7e9c84" stroke-width="2"/>
<line x1="426.8" y1="105" x2="426.8" y2="119" stroke="#7e9c84" stroke-width="2"/>
<line x1="418.7" y1="126" x2="418.7" y2="159" stroke="#7e9c84" stroke-width="2"/>
<rect x="415.1" y="133.5" width="7.2" height="19.7" rx="2.2" fill="#d9b57a"/>
<rect x="415.1" y="139.8" width="7.2" height="2.6" fill="#7c3c1c"/>
<rect x="415.1" y="143.7" width="7.2" height="2.6" fill="#c8321e"/>
<rect x="415.1" y="148.0" width="7.2" height="2.6" fill="#c8321e"/>
<path d="M262.3,88 Q262.3,80.5 268.8,80.5 Q275.8,80.5 276.1,88 L276.6,102 Q276.6,106 271.8,106 L264.3,106 Q260.1,106 260.1,101 L260.7,95 Q262.3,92.5 262.3,88 Z" fill="#e83c3c" stroke="#f07272" stroke-width="0.9" opacity="0.95"/>
<path d="M265.3,92 L272.3,92 L272.3,97 L265.3,97 Z" fill="#000" opacity="0.08"/>
<path d="M278.6,88 Q278.6,80.5 285.1,80.5 Q292.1,80.5 292.4,88 L292.9,102 Q292.9,106 288.1,106 L280.6,106 Q276.4,106 276.4,101 L277.0,95 Q278.6,92.5 278.6,88 Z" fill="#f4e064" stroke="#f8ec9c" stroke-width="0.9" opacity="0.95"/>
<path d="M281.6,92 L288.6,92 L288.6,97 L281.6,97 Z" fill="#000" opacity="0.08"/>
<path d="M294.8,88 Q294.8,80.5 301.3,80.5 Q308.3,80.5 308.6,88 L309.1,102 Q309.1,106 304.3,106 L296.8,106 Q292.6,106 292.6,101 L293.2,95 Q294.8,92.5 294.8,88 Z" fill="#f4e064" stroke="#f8ec9c" stroke-width="0.9" opacity="0.95"/>
<path d="M297.8,92 L304.8,92 L304.8,97 L297.8,97 Z" fill="#000" opacity="0.08"/>
<path d="M311.1,88 Q311.1,80.5 317.6,80.5 Q324.6,80.5 324.9,88 L325.4,102 Q325.4,106 320.6,106 L313.1,106 Q308.9,106 308.9,101 L309.5,95 Q311.1,92.5 311.1,88 Z" fill="#4eea84" stroke="#92f2b6" stroke-width="0.9" opacity="0.95"/>
<path d="M314.1,92 L321.1,92 L321.1,97 L314.1,97 Z" fill="#000" opacity="0.08"/>
<path d="M327.3,88 Q327.3,80.5 333.8,80.5 Q340.8,80.5 341.1,88 L341.6,102 Q341.6,106 336.8,106 L329.3,106 Q325.1,106 325.1,101 L325.7,95 Q327.3,92.5 327.3,88 Z" fill="#4eea84" stroke="#92f2b6" stroke-width="0.9" opacity="0.95"/>
<path d="M330.3,92 L337.3,92 L337.3,97 L330.3,97 Z" fill="#000" opacity="0.08"/>
<path d="M343.6,88 Q343.6,80.5 350.1,80.5 Q357.1,80.5 357.4,88 L357.9,102 Q357.9,106 353.1,106 L345.6,106 Q341.4,106 341.4,101 L342.0,95 Q343.6,92.5 343.6,88 Z" fill="#4eea84" stroke="#92f2b6" stroke-width="0.9" opacity="0.95"/>
<path d="M346.6,92 L353.6,92 L353.6,97 L346.6,97 Z" fill="#000" opacity="0.08"/>
<path d="M416.8,88 Q416.8,80.5 423.3,80.5 Q430.3,80.5 430.6,88 L431.1,102 Q431.1,106 426.3,106 L418.8,106 Q414.6,106 414.6,101 L415.2,95 Q416.8,92.5 416.8,88 Z" fill="#eeeeee" stroke="#cfcfcf" stroke-width="0.9" opacity="0.8"/>
<path d="M419.8,92 L426.8,92 L426.8,97 L419.8,97 Z" fill="#000" opacity="0.08"/>
<path d="M272.4,61.5 L272.4,82.0" fill="none" stroke="#1f1f1f" stroke-width="3.8000000000000003" stroke-linejoin="miter" stroke-linecap="round"/>
<path d="M272.4,61.5 L272.4,82.0" fill="none" stroke="#2e2e2e" stroke-width="2.8000000000000003" stroke-linejoin="miter" stroke-linecap="round"/>
<path d="M288.6,61.5 L288.6,82.0" fill="none" stroke="#1f1f1f" stroke-width="3.8000000000000003" stroke-linejoin="miter" stroke-linecap="round"/>
<path d="M288.6,61.5 L288.6,82.0" fill="none" stroke="#2e2e2e" stroke-width="2.8000000000000003" stroke-linejoin="miter" stroke-linecap="round"/>
<path d="M304.9,61.5 L304.9,82.0" fill="none" stroke="#1f1f1f" stroke-width="3.8000000000000003" stroke-linejoin="miter" stroke-linecap="round"/>
<path d="M304.9,61.5 L304.9,82.0" fill="none" stroke="#2e2e2e" stroke-width="2.8000000000000003" stroke-linejoin="miter" stroke-linecap="round"/>
<path d="M321.1,61.5 L321.1,82.0" fill="none" stroke="#1f1f1f" stroke-width="3.8000000000000003" stroke-linejoin="miter" stroke-linecap="round"/>
<path d="M321.1,61.5 L321.1,82.0" fill="none" stroke="#2e2e2e" stroke-width="2.8000000000000003" stroke-linejoin="miter" stroke-linecap="round"/>
<path d="M337.4,61.5 L337.4,82.0" fill="none" stroke="#1f1f1f" stroke-width="3.8000000000000003" stroke-linejoin="miter" stroke-linecap="round"/>
<path d="M337.4,61.5 L337.4,82.0" fill="none" stroke="#2e2e2e" stroke-width="2.8000000000000003" stroke-linejoin="miter" stroke-linecap="round"/>
<path d="M353.7,61.5 L353.7,82.0" fill="none" stroke="#1f1f1f" stroke-width="3.8000000000000003" stroke-linejoin="miter" stroke-linecap="round"/>
<path d="M353.7,61.5 L353.7,82.0" fill="none" stroke="#2e2e2e" stroke-width="2.8000000000000003" stroke-linejoin="miter" stroke-linecap="round"/>
<path d="M426.8,61.0 L426.8,88.0" fill="none" stroke="#1f1f1f" stroke-width="3.8000000000000003" stroke-linejoin="miter" stroke-linecap="round"/>
<path d="M426.8,61.0 L426.8,88.0" fill="none" stroke="#2e2e2e" stroke-width="2.8000000000000003" stroke-linejoin="miter" stroke-linecap="round"/>
<rect x="553.3" y="0.7" width="296" height="222.4" fill="#3a936e" stroke="#15321f" stroke-width="1.5"/>
<circle cx="560.4" cy="7.9" r="5.2" fill="#a6d4a6"/><circle cx="560.4" cy="7.9" r="3.7" fill="#2a2a18"/><circle cx="560.4" cy="7.9" r="2.6" fill="#f3eed6"/>
<circle cx="842.0" cy="7.9" r="5.2" fill="#a6d4a6"/><circle cx="842.0" cy="7.9" r="3.7" fill="#2a2a18"/><circle cx="842.0" cy="7.9" r="2.6" fill="#f3eed6"/>
<circle cx="560.6" cy="216.2" r="5.2" fill="#a6d4a6"/><circle cx="560.6" cy="216.2" r="3.7" fill="#2a2a18"/><circle cx="560.6" cy="216.2" r="2.6" fill="#f3eed6"/>
<circle cx="841.6" cy="215.9" r="5.2" fill="#a6d4a6"/><circle cx="841.6" cy="215.9" r="3.7" fill="#2a2a18"/><circle cx="841.6" cy="215.9" r="2.6" fill="#f3eed6"/>
<text x="590.8" y="19.2" class="mono" font-size="13.8" fill="#c8f4d8" textLength="110" lengthAdjust="spacingAndGlyphs">PINOUT TYPE B</text>
<rect x="576.2" y="28.2" width="249" height="164.2" fill="#383535" stroke="#1f2a24" stroke-width="0.8"/>
<rect x="582.6" y="32" width="236.5" height="3.2" fill="#242222"/>
<rect x="582.2" y="186.4" width="237" height="2.8" fill="#242222"/>
<rect x="588.4" y="49" width="225.2" height="122.4" fill="#b6d876" stroke="#0c0c0c" stroke-width="2"/>
<path d="M589.6,50.8 L812,50.8 L812,170" fill="none" stroke="#c9e593" stroke-width="1"/>
<rect x="595.0" y="213.2" width="4.6" height="9.9" rx="1.6" fill="#efc57a"/>
<circle cx="597.3" cy="216.2" r="2.0" fill="#e0583a"/>
<text transform="translate(599.1,210.8) rotate(-90)" class="mono" font-weight="bold" font-size="5.2" fill="#cfeedd" textLength="12.8" lengthAdjust="spacingAndGlyphs">K(-)</text>
<rect x="603.1" y="213.2" width="4.6" height="9.9" rx="1.6" fill="#efc57a"/>
<circle cx="605.4" cy="216.2" r="2.0" fill="#e0583a"/>
<text transform="translate(607.2,210.8) rotate(-90)" class="mono" font-weight="bold" font-size="5.2" fill="#cfeedd" textLength="12.8" lengthAdjust="spacingAndGlyphs">A(+)</text>
<rect x="611.2" y="213.2" width="4.6" height="9.9" rx="1.6" fill="#efc57a"/>
<circle cx="613.5" cy="216.2" r="2.0" fill="#e0583a"/>
<text transform="translate(615.3,210.8) rotate(-90)" class="mono" font-weight="bold" font-size="5.2" fill="#cfeedd" textLength="12.8" lengthAdjust="spacingAndGlyphs">Vout</text>
<rect x="619.3" y="213.2" width="4.6" height="9.9" rx="1.6" fill="#efc57a"/>
<circle cx="621.6" cy="216.2" r="2.0" fill="#e0583a"/>
<text transform="translate(623.4,210.8) rotate(-90)" class="mono" font-weight="bold" font-size="5.2" fill="#cfeedd" textLength="9.6" lengthAdjust="spacingAndGlyphs">RST</text>
<rect x="627.4" y="213.2" width="4.6" height="9.9" rx="1.6" fill="#efc57a"/>
<circle cx="629.7" cy="216.2" r="2.0" fill="#e0583a"/>
<text transform="translate(631.5,210.8) rotate(-90)" class="mono" font-weight="bold" font-size="5.2" fill="#cfeedd" textLength="9.6" lengthAdjust="spacingAndGlyphs">CS2</text>
<rect x="635.5" y="213.2" width="4.6" height="9.9" rx="1.6" fill="#efc57a"/>
<circle cx="637.8" cy="216.2" r="2.0" fill="#e0583a"/>
<text transform="translate(639.6,210.8) rotate(-90)" class="mono" font-weight="bold" font-size="5.2" fill="#cfeedd" textLength="9.6" lengthAdjust="spacingAndGlyphs">CS1</text>
<rect x="643.6" y="213.2" width="4.6" height="9.9" rx="1.6" fill="#efc57a"/>
<circle cx="645.9" cy="216.2" r="2.0" fill="#e0583a"/>
<text transform="translate(647.7,210.8) rotate(-90)" class="mono" font-weight="bold" font-size="5.2" fill="#cfeedd" textLength="9.6" lengthAdjust="spacingAndGlyphs">DB7</text>
<rect x="651.7" y="213.2" width="4.6" height="9.9" rx="1.6" fill="#efc57a"/>
<circle cx="654.0" cy="216.2" r="2.0" fill="#e0583a"/>
<text transform="translate(655.8,210.8) rotate(-90)" class="mono" font-weight="bold" font-size="5.2" fill="#cfeedd" textLength="9.6" lengthAdjust="spacingAndGlyphs">DB6</text>
<rect x="659.8" y="213.2" width="4.6" height="9.9" rx="1.6" fill="#efc57a"/>
<circle cx="662.1" cy="216.2" r="2.0" fill="#e0583a"/>
<text transform="translate(663.9,210.8) rotate(-90)" class="mono" font-weight="bold" font-size="5.2" fill="#cfeedd" textLength="9.6" lengthAdjust="spacingAndGlyphs">DB5</text>
<rect x="667.9" y="213.2" width="4.6" height="9.9" rx="1.6" fill="#efc57a"/>
<circle cx="670.2" cy="216.2" r="2.0" fill="#e0583a"/>
<text transform="translate(672.0,210.8) rotate(-90)" class="mono" font-weight="bold" font-size="5.2" fill="#cfeedd" textLength="9.6" lengthAdjust="spacingAndGlyphs">DB4</text>
<rect x="676.0" y="213.2" width="4.6" height="9.9" rx="1.6" fill="#efc57a"/>
<circle cx="678.3" cy="216.2" r="2.0" fill="#e0583a"/>
<text transform="translate(680.1,210.8) rotate(-90)" class="mono" font-weight="bold" font-size="5.2" fill="#cfeedd" textLength="9.6" lengthAdjust="spacingAndGlyphs">DB3</text>
<rect x="684.1" y="213.2" width="4.6" height="9.9" rx="1.6" fill="#efc57a"/>
<circle cx="686.4" cy="216.2" r="2.0" fill="#e0583a"/>
<text transform="translate(688.2,210.8) rotate(-90)" class="mono" font-weight="bold" font-size="5.2" fill="#cfeedd" textLength="9.6" lengthAdjust="spacingAndGlyphs">DB2</text>
<rect x="692.2" y="213.2" width="4.6" height="9.9" rx="1.6" fill="#efc57a"/>
<circle cx="694.5" cy="216.2" r="2.0" fill="#e0583a"/>
<text transform="translate(696.3,210.8) rotate(-90)" class="mono" font-weight="bold" font-size="5.2" fill="#cfeedd" textLength="9.6" lengthAdjust="spacingAndGlyphs">DB1</text>
<rect x="700.3" y="213.2" width="4.6" height="9.9" rx="1.6" fill="#efc57a"/>
<circle cx="702.6" cy="216.2" r="2.0" fill="#e0583a"/>
<text transform="translate(704.4,210.8) rotate(-90)" class="mono" font-weight="bold" font-size="5.2" fill="#cfeedd" textLength="9.6" lengthAdjust="spacingAndGlyphs">DB0</text>
<rect x="708.4" y="213.2" width="4.6" height="9.9" rx="1.6" fill="#efc57a"/>
<circle cx="710.7" cy="216.2" r="2.0" fill="#e0583a"/>
<text transform="translate(712.5,210.8) rotate(-90)" class="mono" font-weight="bold" font-size="5.2" fill="#cfeedd" textLength="3.2" lengthAdjust="spacingAndGlyphs">E</text>
<rect x="716.5" y="213.2" width="4.6" height="9.9" rx="1.6" fill="#efc57a"/>
<circle cx="718.8" cy="216.2" r="2.0" fill="#e0583a"/>
<text transform="translate(720.6,210.8) rotate(-90)" class="mono" font-weight="bold" font-size="5.2" fill="#cfeedd" textLength="9.6" lengthAdjust="spacingAndGlyphs">R/W</text>
<rect x="724.6" y="213.2" width="4.6" height="9.9" rx="1.6" fill="#efc57a"/>
<circle cx="726.9" cy="216.2" r="2.0" fill="#e0583a"/>
<text transform="translate(728.7,210.8) rotate(-90)" class="mono" font-weight="bold" font-size="5.2" fill="#cfeedd" textLength="9.6" lengthAdjust="spacingAndGlyphs">D/I</text>
<rect x="732.7" y="213.2" width="4.6" height="9.9" rx="1.6" fill="#efc57a"/>
<circle cx="735.0" cy="216.2" r="2.0" fill="#e0583a"/>
<text transform="translate(736.8,210.8) rotate(-90)" class="mono" font-weight="bold" font-size="5.2" fill="#cfeedd" textLength="6.4" lengthAdjust="spacingAndGlyphs">Vo</text>
<rect x="740.8" y="213.2" width="4.6" height="9.9" rx="1.6" fill="#efc57a"/>
<circle cx="743.1" cy="216.2" r="2.0" fill="#e0583a"/>
<text transform="translate(744.9,210.8) rotate(-90)" class="mono" font-weight="bold" font-size="5.2" fill="#cfeedd" textLength="9.6" lengthAdjust="spacingAndGlyphs">Vdd</text>
<rect x="748.9" y="213.2" width="4.6" height="9.9" rx="1.6" fill="#efc57a"/>
<circle cx="751.2" cy="216.2" r="2.0" fill="#e0583a"/>
<text transform="translate(753.0,210.8) rotate(-90)" class="mono" font-weight="bold" font-size="5.2" fill="#cfeedd" textLength="9.6" lengthAdjust="spacingAndGlyphs">Vss</text>
<text x="585.5" y="218.5" class="mono" font-size="5.6" fill="#cfeedd">20</text>
<text x="759.8" y="218" class="mono" font-size="5.6" fill="#cfeedd">1</text>
<circle cx="761.5" cy="215.8" r="4.6" fill="none" stroke="#6cbb93" stroke-width="0.6"/>
<circle cx="589" cy="215.8" r="4.8" fill="none" stroke="#6cbb93" stroke-width="0.6"/>
<path d="M209.5,289.4 L413.5,289.4 Q416.2,289.4 416.2,292 L416.2,326.7 L426.4,339 L426.4,443.4 L418.4,451 L418.4,459 L210.2,459 Q207.2,459 207.2,456 L207.2,292 Q207.2,289.4 209.5,289.4 Z" fill="#13738f"/>
<rect x="208" y="316" width="4" height="44" fill="#b8b8b8"/>
<rect x="187.2" y="319.8" width="50" height="35.5" fill="#b2b2b2"/>
<rect x="187.2" y="319.8" width="8" height="35.5" fill="#9c9c9c"/>
<rect x="212.3" y="292.8" width="3" height="2.4" fill="#e8f0f4"/>
<rect x="212.3" y="299.3" width="3" height="2.4" fill="#e8f0f4"/>
<rect x="212.3" y="305.8" width="3" height="2.4" fill="#e8f0f4"/>
<rect x="237" y="292.8" width="3" height="2.4" fill="#e8f0f4"/>
<rect x="237" y="305.8" width="3" height="2.4" fill="#e8f0f4"/>
<rect x="214.3" y="291" width="23.5" height="19.6" fill="#d9dcdd"/>
<circle cx="226.3" cy="300.7" r="5.6" fill="#a21d1d" stroke="#7e1616" stroke-width="0.8"/>
<text x="218.3" y="316" class="mono" font-weight="bold" font-size="5" fill="#d7eaf2" textLength="16" lengthAdjust="spacingAndGlyphs">RESET</text>
<circle cx="256" cy="297" r="5" fill="#ffffff"/>
<circle cx="418" cy="346.1" r="4.8" fill="#ffffff"/>
<circle cx="418.5" cy="435.6" r="4.9" fill="#ffffff"/>
<circle cx="252" cy="451.6" r="5" fill="#ffffff"/>
<rect x="254" y="304.4" width="23.3" height="15.2" fill="#3a3434"/>
<circle cx="257.2" cy="308.4" r="1.8" fill="#c4b49a"/>
<circle cx="265.4" cy="308.4" r="1.8" fill="#c4b49a"/>
<circle cx="273.6" cy="308.4" r="1.8" fill="#c4b49a"/>
<circle cx="257.2" cy="316.5" r="1.8" fill="#c4b49a"/>
<circle cx="265.4" cy="316.5" r="1.8" fill="#c4b49a"/>
<circle cx="273.6" cy="316.5" r="1.8" fill="#c4b49a"/>
<text x="254.4" y="326.4" class="mono" font-weight="bold" font-size="5.2" fill="#d7eaf2" textLength="16.6" lengthAdjust="spacingAndGlyphs">ICSP2</text>
<rect x="263.2" y="294.8" width="81" height="4.9" fill="#3b3232"/>
<rect x="349" y="294.8" width="65" height="4.9" fill="#3b3232"/>
<rect x="265.4" y="295.6" width="3.2" height="3.2" fill="#0d0d0d"/>
<rect x="273.5" y="295.6" width="3.2" height="3.2" fill="#0d0d0d"/>
<rect x="281.6" y="295.6" width="3.2" height="3.2" fill="#0d0d0d"/>
<rect x="289.7" y="295.6" width="3.2" height="3.2" fill="#0d0d0d"/>
<rect x="297.8" y="295.6" width="3.2" height="3.2" fill="#0d0d0d"/>
<rect x="305.9" y="295.6" width="3.2" height="3.2" fill="#0d0d0d"/>
<rect x="314.0" y="295.6" width="3.2" height="3.2" fill="#0d0d0d"/>
<rect x="322.1" y="295.6" width="3.2" height="3.2" fill="#0d0d0d"/>
<rect x="330.2" y="295.6" width="3.2" height="3.2" fill="#0d0d0d"/>
<rect x="338.3" y="295.6" width="3.2" height="3.2" fill="#0d0d0d"/>
<rect x="351.4" y="295.6" width="3.2" height="3.2" fill="#0d0d0d"/>
<rect x="359.5" y="295.6" width="3.2" height="3.2" fill="#0d0d0d"/>
<rect x="367.7" y="295.6" width="3.2" height="3.2" fill="#0d0d0d"/>
<rect x="375.8" y="295.6" width="3.2" height="3.2" fill="#0d0d0d"/>
<rect x="384.0" y="295.6" width="3.2" height="3.2" fill="#0d0d0d"/>
<rect x="392.1" y="295.6" width="3.2" height="3.2" fill="#0d0d0d"/>
<rect x="400.3" y="295.6" width="3.2" height="3.2" fill="#0d0d0d"/>
<rect x="408.4" y="295.6" width="3.2" height="3.2" fill="#0d0d0d"/>
<rect x="288.8" y="294.9" width="5.6" height="4.7" fill="#3d6e3a"/>
<circle cx="277.3" cy="304.3" r="0.9" fill="#e0f0f5"/>
<text transform="translate(284.8,303.6) rotate(-90)" class="mono" font-weight="bold" font-size="4.8" fill="#d4e8f0" text-anchor="end" textLength="10.6" lengthAdjust="spacingAndGlyphs">AREF</text>
<text transform="translate(292.9,303.6) rotate(-90)" class="mono" font-weight="bold" font-size="4.8" fill="#d4e8f0" text-anchor="end" textLength="7.9" lengthAdjust="spacingAndGlyphs">GND</text>
<text transform="translate(301.0,303.6) rotate(-90)" class="mono" font-weight="bold" font-size="4.8" fill="#d4e8f0" text-anchor="end" textLength="5.3" lengthAdjust="spacingAndGlyphs">13</text>
<text transform="translate(309.1,303.6) rotate(-90)" class="mono" font-weight="bold" font-size="4.8" fill="#d4e8f0" text-anchor="end" textLength="5.3" lengthAdjust="spacingAndGlyphs">12</text>
<text transform="translate(317.2,303.6) rotate(-90)" class="mono" font-weight="bold" font-size="4.8" fill="#d4e8f0" text-anchor="end" textLength="5.3" lengthAdjust="spacingAndGlyphs">11</text>
<text transform="translate(316.9,312.1) rotate(-90)" class="mono" font-size="4.2" fill="#d4e8f0" text-anchor="end">~</text>
<text transform="translate(325.3,303.6) rotate(-90)" class="mono" font-weight="bold" font-size="4.8" fill="#d4e8f0" text-anchor="end" textLength="5.3" lengthAdjust="spacingAndGlyphs">10</text>
<text transform="translate(325.0,312.1) rotate(-90)" class="mono" font-size="4.2" fill="#d4e8f0" text-anchor="end">~</text>
<text transform="translate(333.4,303.6) rotate(-90)" class="mono" font-weight="bold" font-size="4.8" fill="#d4e8f0" text-anchor="end" textLength="2.6" lengthAdjust="spacingAndGlyphs">9</text>
<text transform="translate(333.1,309.4) rotate(-90)" class="mono" font-size="4.2" fill="#d4e8f0" text-anchor="end">~</text>
<text transform="translate(341.5,303.6) rotate(-90)" class="mono" font-weight="bold" font-size="4.8" fill="#d4e8f0" text-anchor="end" textLength="2.6" lengthAdjust="spacingAndGlyphs">8</text>
<text transform="translate(354.6,303.6) rotate(-90)" class="mono" font-weight="bold" font-size="4.8" fill="#d4e8f0" text-anchor="end" textLength="2.6" lengthAdjust="spacingAndGlyphs">7</text>
<text transform="translate(362.8,303.6) rotate(-90)" class="mono" font-weight="bold" font-size="4.8" fill="#d4e8f0" text-anchor="end" textLength="2.6" lengthAdjust="spacingAndGlyphs">6</text>
<text transform="translate(362.4,309.4) rotate(-90)" class="mono" font-size="4.2" fill="#d4e8f0" text-anchor="end">~</text>
<text transform="translate(370.9,303.6) rotate(-90)" class="mono" font-weight="bold" font-size="4.8" fill="#d4e8f0" text-anchor="end" textLength="2.6" lengthAdjust="spacingAndGlyphs">5</text>
<text transform="translate(370.6,309.4) rotate(-90)" class="mono" font-size="4.2" fill="#d4e8f0" text-anchor="end">~</text>
<text transform="translate(379.1,303.6) rotate(-90)" class="mono" font-weight="bold" font-size="4.8" fill="#d4e8f0" text-anchor="end" textLength="2.6" lengthAdjust="spacingAndGlyphs">4</text>
<text transform="translate(387.2,303.6) rotate(-90)" class="mono" font-weight="bold" font-size="4.8" fill="#d4e8f0" text-anchor="end" textLength="2.6" lengthAdjust="spacingAndGlyphs">3</text>
<text transform="translate(386.9,309.4) rotate(-90)" class="mono" font-size="4.2" fill="#d4e8f0" text-anchor="end">~</text>
<text transform="translate(395.4,303.6) rotate(-90)" class="mono" font-weight="bold" font-size="4.8" fill="#d4e8f0" text-anchor="end" textLength="2.6" lengthAdjust="spacingAndGlyphs">2</text>
<text transform="translate(403.5,303.6) rotate(-90)" class="mono" font-weight="bold" font-size="4.8" fill="#d4e8f0" text-anchor="end" textLength="10.6" lengthAdjust="spacingAndGlyphs">TX▶1</text>
<text transform="translate(411.7,303.6) rotate(-90)" class="mono" font-weight="bold" font-size="4.8" fill="#d4e8f0" text-anchor="end" textLength="10.6" lengthAdjust="spacingAndGlyphs">RX◀0</text>
<text x="351" y="320.2" class="mono" font-weight="bold" font-size="4.6" fill="#d4e8f0" textLength="44" lengthAdjust="spacingAndGlyphs">DIGITAL (PWM=~)</text>
<rect x="291" y="321.8" width="122.5" height="1.3" fill="#d9eef5"/>
<rect x="291.8" y="326.7" width="8.2" height="3.6" fill="#e6eef0"/>
<text x="289.5" y="331" class="mono" font-weight="bold" font-size="5.5" fill="#d7eaf2" text-anchor="end">L</text>
<rect x="291.8" y="342.2" width="8.2" height="3.4" fill="#e6eef0"/>
<rect x="291.8" y="348.6" width="8.2" height="3.4" fill="#e6eef0"/>
<text x="289.5" y="346.5" class="mono" font-weight="bold" font-size="5.5" fill="#d7eaf2" text-anchor="end">TX</text>
<text x="289.5" y="353" class="mono" font-weight="bold" font-size="5.5" fill="#d7eaf2" text-anchor="end">RX</text>
<rect x="393" y="342.3" width="7.2" height="3.4" fill="#e6eef0"/>
<text x="402.5" y="346.5" class="mono" font-weight="bold" font-size="5.5" fill="#d7eaf2">ON</text>
<rect x="263" y="341.5" width="15.8" height="14.9" fill="#3a3232"/>
<path d="M329,334.7 C331.8,331 334.6,327.3 339.1,327.3 C343.3,327.3 346.8,330.6 346.8,334.7 C346.8,338.8 343.3,342.1 339.1,342.1 C334.6,342.1 331.8,338.4 329,334.7 C326.2,331 323.4,327.3 318.9,327.3 C314.7,327.3 311.3,330.6 311.3,334.7 C311.3,338.8 314.7,342.1 318.9,342.1 C323.4,342.1 326.2,338.4 329,334.7 Z" fill="none" stroke="#f2f8fa" stroke-width="3.1"/>
<rect x="315.9" y="333.8" width="5.8" height="1.9" fill="#f2f8fa"/>
<rect x="336.3" y="333.8" width="5.8" height="1.9" fill="#f2f8fa"/><rect x="338.25" y="331.85" width="1.9" height="5.8" fill="#f2f8fa"/>
<rect x="351.7" y="326.4" width="37.6" height="16.6" rx="8.3" fill="none" stroke="#e6f4f8" stroke-width="1.4"/>
<text x="355.5" y="340.4" font-size="15" fill="#e6f4f8" textLength="29" lengthAdjust="spacingAndGlyphs">UNO</text>
<text x="310.8" y="351.6" class="mono" font-size="7" fill="#e4f1f6" stroke="#e4f1f6" stroke-width="0.25" textLength="33.2" lengthAdjust="spacingAndGlyphs">Arduino</text>
<rect x="407.8" y="359.3" width="14.8" height="23" fill="#3a3434"/>
<circle cx="411.4" cy="362.6" r="1.8" fill="#c4b49a"/>
<circle cx="419.0" cy="362.6" r="1.8" fill="#c4b49a"/>
<circle cx="411.4" cy="370.4" r="1.8" fill="#c4b49a"/>
<circle cx="419.0" cy="370.4" r="1.8" fill="#c4b49a"/>
<circle cx="411.4" cy="378.2" r="1.8" fill="#c4b49a"/>
<circle cx="419.0" cy="378.2" r="1.8" fill="#c4b49a"/>
<text transform="translate(405.6,382) rotate(-90)" class="mono" font-weight="bold" font-size="5" fill="#d4e8f0" textLength="13" lengthAdjust="spacingAndGlyphs">ICSP</text>
<text x="404" y="362" class="mono" font-weight="bold" font-size="5" fill="#d4e8f0" text-anchor="middle">1</text>
<rect x="296" y="398.6" width="118.9" height="18.2" fill="#363030"/>
<rect x="220" y="398.4" width="6.6" height="12" fill="#dcd6d0"/>
<rect x="226.4" y="394" width="11.3" height="20.7" fill="#3a3030"/>
<rect x="237.7" y="394.8" width="5.4" height="3.9" fill="#cfdde0"/>
<rect x="237.7" y="402.7" width="5.4" height="3.9" fill="#cfdde0"/>
<rect x="237.7" y="410.1" width="5.4" height="3.9" fill="#cfdde0"/>
<rect x="202" y="421.5" width="41.6" height="27.5" fill="#221e1e"/>
<rect x="255.9" y="419.8" width="20.6" height="21.2" rx="3" fill="#195e72"/>
<circle cx="266.2" cy="430.2" r="10.2" fill="#ebe9e8"/>
<path d="M258.0,436.3 A10.2,10.2 0 0 0 274.4,436.3 Z" fill="#121212"/>
<rect x="278.9" y="419.8" width="20.6" height="21.2" rx="3" fill="#195e72"/>
<circle cx="289.2" cy="430.2" r="10.2" fill="#ebe9e8"/>
<path d="M281.0,436.3 A10.2,10.2 0 0 0 297.4,436.3 Z" fill="#121212"/>
<rect x="292.4" y="448" width="65" height="7.4" fill="#3b3232"/>
<rect x="366.4" y="448" width="47.2" height="7.4" fill="#3b3232"/>
<rect x="294.7" y="449.9" width="3.6" height="3.6" fill="#0d0d0d"/>
<rect x="302.8" y="449.9" width="3.6" height="3.6" fill="#0d0d0d"/>
<rect x="310.9" y="449.9" width="3.6" height="3.6" fill="#0d0d0d"/>
<rect x="319.0" y="449.9" width="3.6" height="3.6" fill="#0d0d0d"/>
<rect x="327.1" y="449.9" width="3.6" height="3.6" fill="#0d0d0d"/>
<rect x="335.2" y="449.9" width="3.6" height="3.6" fill="#0d0d0d"/>
<rect x="343.3" y="449.9" width="3.6" height="3.6" fill="#0d0d0d"/>
<rect x="351.4" y="449.9" width="3.6" height="3.6" fill="#0d0d0d"/>
<rect x="368.0" y="449.9" width="3.6" height="3.6" fill="#0d0d0d"/>
<rect x="376.1" y="449.9" width="3.6" height="3.6" fill="#0d0d0d"/>
<rect x="384.2" y="449.9" width="3.6" height="3.6" fill="#0d0d0d"/>
<rect x="392.3" y="449.9" width="3.6" height="3.6" fill="#0d0d0d"/>
<rect x="400.4" y="449.9" width="3.6" height="3.6" fill="#0d0d0d"/>
<rect x="408.5" y="449.9" width="3.6" height="3.6" fill="#0d0d0d"/>
<rect x="318.4" y="448.8" width="4.8" height="5.8" fill="#3a6e38"/>
<rect x="326.5" y="448.8" width="4.8" height="5.8" fill="#3a6e38"/>
<rect x="334.6" y="448.8" width="4.8" height="5.8" fill="#3a6e38"/>
<rect x="342.7" y="448.8" width="4.8" height="5.8" fill="#3a6e38"/>
<rect x="316.3" y="431.4" width="41.2" height="1.2" fill="#d9eef5"/>
<rect x="367.4" y="431.4" width="45.3" height="1.2" fill="#d9eef5"/>
<text x="357.5" y="437.3" class="mono" font-weight="bold" font-size="4.6" fill="#d7eaf2" text-anchor="end" textLength="14.5" lengthAdjust="spacingAndGlyphs">POWER</text>
<text x="412" y="437.3" class="mono" font-weight="bold" font-size="4.6" fill="#d7eaf2" text-anchor="end" textLength="26.5" lengthAdjust="spacingAndGlyphs">ANALOG IN</text>
<text transform="translate(306.2,446.5) rotate(-90)" class="mono" font-weight="bold" font-size="4.2" fill="#d4e8f0" textLength="9.2" lengthAdjust="spacingAndGlyphs">IOREF</text>
<text transform="translate(314.3,446.5) rotate(-90)" class="mono" font-weight="bold" font-size="4.2" fill="#d4e8f0" textLength="9.2" lengthAdjust="spacingAndGlyphs">RESET</text>
<text transform="translate(322.4,446.5) rotate(-90)" class="mono" font-weight="bold" font-size="4.2" fill="#d4e8f0" textLength="5.6" lengthAdjust="spacingAndGlyphs">3V3</text>
<text transform="translate(330.5,446.5) rotate(-90)" class="mono" font-weight="bold" font-size="4.2" fill="#d4e8f0" textLength="3.7" lengthAdjust="spacingAndGlyphs">5V</text>
<text transform="translate(338.6,446.5) rotate(-90)" class="mono" font-weight="bold" font-size="4.2" fill="#d4e8f0" textLength="5.6" lengthAdjust="spacingAndGlyphs">GND</text>
<text transform="translate(346.7,446.5) rotate(-90)" class="mono" font-weight="bold" font-size="4.2" fill="#d4e8f0" textLength="5.6" lengthAdjust="spacingAndGlyphs">GND</text>
<text transform="translate(354.8,446.5) rotate(-90)" class="mono" font-weight="bold" font-size="4.2" fill="#d4e8f0" textLength="5.6" lengthAdjust="spacingAndGlyphs">VIN</text>
<text transform="translate(371.4,446.5) rotate(-90)" class="mono" font-weight="bold" font-size="4.2" fill="#d4e8f0" textLength="4.2" lengthAdjust="spacingAndGlyphs">A0</text>
<text transform="translate(379.5,446.5) rotate(-90)" class="mono" font-weight="bold" font-size="4.2" fill="#d4e8f0" textLength="4.2" lengthAdjust="spacingAndGlyphs">A1</text>
<text transform="translate(387.6,446.5) rotate(-90)" class="mono" font-weight="bold" font-size="4.2" fill="#d4e8f0" textLength="4.2" lengthAdjust="spacingAndGlyphs">A2</text>
<text transform="translate(395.7,446.5) rotate(-90)" class="mono" font-weight="bold" font-size="4.2" fill="#d4e8f0" textLength="4.2" lengthAdjust="spacingAndGlyphs">A3</text>
<text transform="translate(403.8,446.5) rotate(-90)" class="mono" font-weight="bold" font-size="4.2" fill="#d4e8f0" textLength="4.2" lengthAdjust="spacingAndGlyphs">A4</text>
<text transform="translate(411.9,446.5) rotate(-90)" class="mono" font-weight="bold" font-size="4.2" fill="#d4e8f0" textLength="4.2" lengthAdjust="spacingAndGlyphs">A5</text>
<rect x="456.7" y="309.6" width="69.9" height="97" fill="#2c8a3e"/>
<path d="M457,354.5 A3.4,3.4 0 0 1 457,361.3 Z" fill="#fff"/>
<circle cx="483" cy="313.9" r="1.4" fill="#c9783a"/>
<circle cx="491.4" cy="313.9" r="1.4" fill="#c9783a"/>
<circle cx="499.8" cy="313.9" r="1.4" fill="#c9783a"/>
<path d="M465.2,349 L465.2,366 A26.6,25 0 0 0 518.4,366 L518.4,349 Z" fill="#d84a1a"/>
<ellipse cx="491.8" cy="348.7" rx="26.6" ry="26" fill="#f0642a"/>
<ellipse cx="491.2" cy="350.2" rx="18.4" ry="17.5" fill="#555558"/>
<ellipse cx="491.4" cy="351.4" rx="17.6" ry="16.2" fill="#68686c"/>
<rect x="479.8" y="387" width="1.8" height="7" fill="#e8f0e0"/><rect x="501.8" y="387" width="1.8" height="7" fill="#e8f0e0"/>
<circle cx="483.6" cy="403" r="1.2" fill="#d0b070"/>
<circle cx="491.4" cy="403" r="1.2" fill="#d0b070"/>
<circle cx="499.8" cy="403" r="1.2" fill="#d0b070"/>
<circle cx="508.3" cy="403" r="1.2" fill="#d0b070"/>
<path d="M500.0,61.3 L540.7,61.3 L540.7,207.7 L500.0,207.7" fill="none" stroke="#1f1f1f" stroke-width="3.6" stroke-linejoin="miter" stroke-linecap="round"/>
<path d="M500.0,61.3 L540.7,61.3 L540.7,207.7 L500.0,207.7" fill="none" stroke="#2e2e2e" stroke-width="2.6" stroke-linejoin="miter" stroke-linecap="round"/>
<path d="M597.3,215.0 L597.3,232.0 L491.9,232.0 L491.9,207.7" fill="none" stroke="#1f1f1f" stroke-width="3.6" stroke-linejoin="miter" stroke-linecap="round"/>
<path d="M597.3,215.0 L597.3,232.0 L491.9,232.0 L491.9,207.7" fill="none" stroke="#2e2e2e" stroke-width="2.6" stroke-linejoin="miter" stroke-linecap="round"/>
<path d="M637.9,215.0 L637.9,240.4 L483.6,240.4 L483.6,207.7" fill="none" stroke="#1f1f1f" stroke-width="3.6" stroke-linejoin="miter" stroke-linecap="round"/>
<path d="M637.9,215.0 L637.9,240.4 L483.6,240.4 L483.6,207.7" fill="none" stroke="#2e2e2e" stroke-width="2.6" stroke-linejoin="miter" stroke-linecap="round"/>
<path d="M743.3,215.0 L743.3,248.4 L475.2,248.4 L475.2,215.9" fill="none" stroke="#8a1010" stroke-width="3.6" stroke-linejoin="miter" stroke-linecap="round"/>
<path d="M743.3,215.0 L743.3,248.4 L475.2,248.4 L475.2,215.9" fill="none" stroke="#ae1a1a" stroke-width="2.6" stroke-linejoin="miter" stroke-linecap="round"/>
<path d="M751.2,215.0 L751.2,256.4 L467.1,256.4 L467.1,207.7" fill="none" stroke="#1f1f1f" stroke-width="3.6" stroke-linejoin="miter" stroke-linecap="round"/>
<path d="M751.2,215.0 L751.2,256.4 L467.1,256.4 L467.1,207.7" fill="none" stroke="#2e2e2e" stroke-width="2.6" stroke-linejoin="miter" stroke-linecap="round"/>
<path d="M621.6,215.0 L621.6,264.6 L361.1,264.6 L361.1,297.0" fill="none" stroke="#b8b8b8" stroke-width="3.6" stroke-linejoin="miter" stroke-linecap="round"/>
<path d="M621.6,215.0 L621.6,264.6 L361.1,264.6 L361.1,297.0" fill="none" stroke="#f4f4f4" stroke-width="2.6" stroke-linejoin="miter" stroke-linecap="round"/>
<path d="M711.1,215.0 L711.1,273.2 L369.2,273.2 L369.2,297.0" fill="none" stroke="#5e2a08" stroke-width="3.6" stroke-linejoin="miter" stroke-linecap="round"/>
<path d="M711.1,215.0 L711.1,273.2 L369.2,273.2 L369.2,297.0" fill="none" stroke="#7e3a10" stroke-width="2.6" stroke-linejoin="miter" stroke-linecap="round"/>
<path d="M719.2,215.0 L719.2,281.2 L377.3,281.2 L377.3,297.0" fill="none" stroke="#cdbb22" stroke-width="3.6" stroke-linejoin="miter" stroke-linecap="round"/>
<path d="M719.2,215.0 L719.2,281.2 L377.3,281.2 L377.3,297.0" fill="none" stroke="#f2e23a" stroke-width="2.6" stroke-linejoin="miter" stroke-linecap="round"/>
<path d="M727.3,215.0 L727.3,288.9 L385.4,288.9 L385.4,297.0" fill="none" stroke="#2a9a38" stroke-width="3.6" stroke-linejoin="miter" stroke-linecap="round"/>
<path d="M727.3,215.0 L727.3,288.9 L385.4,288.9 L385.4,297.0" fill="none" stroke="#3cb84a" stroke-width="2.6" stroke-linejoin="miter" stroke-linecap="round"/>
<path d="M28.5,207.7 L28.5,476.5 L337.0,476.5 L337.0,452.0" fill="none" stroke="#1f1f1f" stroke-width="3.8000000000000003" stroke-linejoin="miter" stroke-linecap="round"/>
<path d="M28.5,207.7 L28.5,476.5 L337.0,476.5 L337.0,452.0" fill="none" stroke="#2e2e2e" stroke-width="2.8000000000000003" stroke-linejoin="miter" stroke-linecap="round"/>
<path d="M36.8,215.9 L36.8,468.3 L328.9,468.3 L328.9,452.0" fill="none" stroke="#8a1010" stroke-width="3.8000000000000003" stroke-linejoin="miter" stroke-linecap="round"/>
<path d="M36.8,215.9 L36.8,468.3 L328.9,468.3 L328.9,452.0" fill="none" stroke="#ae1a1a" stroke-width="2.8000000000000003" stroke-linejoin="miter" stroke-linecap="round"/>
<path d="M508.3,403.0 L508.3,468.2 L369.8,468.2 L369.8,452.0" fill="none" stroke="#2f6fb8" stroke-width="3.6" stroke-linejoin="miter" stroke-linecap="round"/>
<path d="M508.3,403.0 L508.3,468.2 L369.8,468.2 L369.8,452.0" fill="none" stroke="#4a8ad6" stroke-width="2.6" stroke-linejoin="miter" stroke-linecap="round"/>
<path d="M605.3,215.0 L605.3,460.0 L320.8,460.0 L320.8,452.0" fill="none" stroke="#7a7a7a" stroke-width="3.6" stroke-linejoin="miter" stroke-linecap="round"/>
<path d="M605.3,215.0 L605.3,460.0 L320.8,460.0 L320.8,452.0" fill="none" stroke="#9a9a9a" stroke-width="2.6" stroke-linejoin="miter" stroke-linecap="round"/>
<path d="M451.0,207.7 L451.0,427.6 L483.7,427.6 L483.7,403.0" fill="none" stroke="#1f1f1f" stroke-width="3.6" stroke-linejoin="miter" stroke-linecap="round"/>
<path d="M451.0,207.7 L451.0,427.6 L483.7,427.6 L483.7,403.0" fill="none" stroke="#2e2e2e" stroke-width="2.6" stroke-linejoin="miter" stroke-linecap="round"/>
<path d="M443.0,215.9 L443.0,435.9 L491.5,435.9 L491.5,403.0" fill="none" stroke="#8a1010" stroke-width="3.6" stroke-linejoin="miter" stroke-linecap="round"/>
<path d="M443.0,215.9 L443.0,435.9 L491.5,435.9 L491.5,403.0" fill="none" stroke="#ae1a1a" stroke-width="2.6" stroke-linejoin="miter" stroke-linecap="round"/>
<line x1="264.5" y1="183.2" x2="307.5" y2="296" stroke="#8a1010" stroke-width="4.4" stroke-linecap="round"/>
<line x1="264.5" y1="183.2" x2="307.5" y2="296" stroke="#ae1a1a" stroke-width="3.5" stroke-linecap="round"/>
<line x1="264.5" y1="183.2" x2="307.5" y2="296" stroke="#ffffff" stroke-width="1.7" stroke-dasharray="24 4 28 4" stroke-dashoffset="-8" opacity="0.8"/>
<line x1="280.7" y1="183.2" x2="315.6" y2="296" stroke="#cdbb22" stroke-width="4.4" stroke-linecap="round"/>
<line x1="280.7" y1="183.2" x2="315.6" y2="296" stroke="#f2e23a" stroke-width="3.5" stroke-linecap="round"/>
<line x1="280.7" y1="183.2" x2="315.6" y2="296" stroke="#ffffff" stroke-width="1.7" stroke-dasharray="24 4 28 4" stroke-dashoffset="-8" opacity="0.8"/>
<line x1="296.9" y1="183.2" x2="323.7" y2="296" stroke="#cdbb22" stroke-width="4.4" stroke-linecap="round"/>
<line x1="296.9" y1="183.2" x2="323.7" y2="296" stroke="#f2e23a" stroke-width="3.5" stroke-linecap="round"/>
<line x1="296.9" y1="183.2" x2="323.7" y2="296" stroke="#ffffff" stroke-width="1.7" stroke-dasharray="24 4 28 4" stroke-dashoffset="-8" opacity="0.8"/>
<line x1="313.1" y1="183.2" x2="331.8" y2="296" stroke="#2a9a38" stroke-width="4.4" stroke-linecap="round"/>
<line x1="313.1" y1="183.2" x2="331.8" y2="296" stroke="#3cb84a" stroke-width="3.5" stroke-linecap="round"/>
<line x1="313.1" y1="183.2" x2="331.8" y2="296" stroke="#ffffff" stroke-width="1.7" stroke-dasharray="24 4 28 4" stroke-dashoffset="-8" opacity="0.8"/>
<line x1="329.3" y1="183.2" x2="339.9" y2="296" stroke="#2a9a38" stroke-width="4.4" stroke-linecap="round"/>
<line x1="329.3" y1="183.2" x2="339.9" y2="296" stroke="#3cb84a" stroke-width="3.5" stroke-linecap="round"/>
<line x1="329.3" y1="183.2" x2="339.9" y2="296" stroke="#ffffff" stroke-width="1.7" stroke-dasharray="24 4 28 4" stroke-dashoffset="-8" opacity="0.8"/>
<line x1="345.5" y1="183.2" x2="353.0" y2="296" stroke="#2a9a38" stroke-width="4.4" stroke-linecap="round"/>
<line x1="345.5" y1="183.2" x2="353.0" y2="296" stroke="#3cb84a" stroke-width="3.5" stroke-linecap="round"/>
<line x1="345.5" y1="183.2" x2="353.0" y2="296" stroke="#ffffff" stroke-width="1.7" stroke-dasharray="24 4 28 4" stroke-dashoffset="-8" opacity="0.8"/>
<line x1="418.5" y1="182.7" x2="393.5" y2="296" stroke="#2f6fb8" stroke-width="4.4" stroke-linecap="round"/>
<line x1="418.5" y1="182.7" x2="393.5" y2="296" stroke="#4a8ad6" stroke-width="3.5" stroke-linecap="round"/>
<line x1="418.5" y1="182.7" x2="393.5" y2="296" stroke="#ffffff" stroke-width="1.7" stroke-dasharray="24 4 28 4" stroke-dashoffset="-8" opacity="0.8"/>
<text x="798.2" y="497" font-size="15" fill="#878787" stroke="#878787" stroke-width="0.35" textLength="54" lengthAdjust="spacing">fritzing</text>
</svg></body></html>
